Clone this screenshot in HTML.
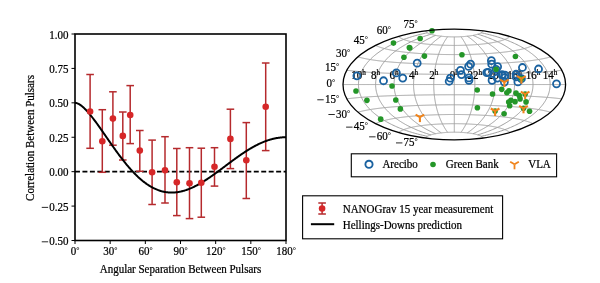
<!DOCTYPE html>
<html><head><meta charset="utf-8"><style>
html,body{margin:0;padding:0;background:#fff;overflow:hidden;width:600px;height:283px;}
svg{display:block;will-change:transform;}
</style></head><body>
<svg width="600" height="283" viewBox="0 0 600 283">
<rect width="600" height="283" fill="#fff"/>
<line x1="75.0" y1="171.67" x2="286.0" y2="171.67" stroke="#000" stroke-width="1.8" stroke-dasharray="4.95 2.5"/>
<line x1="90.1" y1="74.5" x2="90.1" y2="148.3" stroke="#b52a2d" stroke-width="1.5"/>
<line x1="86.3" y1="74.5" x2="93.89999999999999" y2="74.5" stroke="#b52a2d" stroke-width="1.5"/>
<line x1="86.3" y1="148.3" x2="93.89999999999999" y2="148.3" stroke="#b52a2d" stroke-width="1.5"/>
<line x1="102.3" y1="109.7" x2="102.3" y2="172.3" stroke="#b52a2d" stroke-width="1.5"/>
<line x1="98.5" y1="109.7" x2="106.1" y2="109.7" stroke="#b52a2d" stroke-width="1.5"/>
<line x1="98.5" y1="172.3" x2="106.1" y2="172.3" stroke="#b52a2d" stroke-width="1.5"/>
<line x1="112.9" y1="91.8" x2="112.9" y2="145.2" stroke="#b52a2d" stroke-width="1.5"/>
<line x1="109.10000000000001" y1="91.8" x2="116.7" y2="91.8" stroke="#b52a2d" stroke-width="1.5"/>
<line x1="109.10000000000001" y1="145.2" x2="116.7" y2="145.2" stroke="#b52a2d" stroke-width="1.5"/>
<line x1="122.8" y1="112.0" x2="122.8" y2="160.0" stroke="#b52a2d" stroke-width="1.5"/>
<line x1="119.0" y1="112.0" x2="126.6" y2="112.0" stroke="#b52a2d" stroke-width="1.5"/>
<line x1="119.0" y1="160.0" x2="126.6" y2="160.0" stroke="#b52a2d" stroke-width="1.5"/>
<line x1="130.2" y1="85.6" x2="130.2" y2="143.6" stroke="#b52a2d" stroke-width="1.5"/>
<line x1="126.39999999999999" y1="85.6" x2="134.0" y2="85.6" stroke="#b52a2d" stroke-width="1.5"/>
<line x1="126.39999999999999" y1="143.6" x2="134.0" y2="143.6" stroke="#b52a2d" stroke-width="1.5"/>
<line x1="139.8" y1="130.5" x2="139.8" y2="171.3" stroke="#b52a2d" stroke-width="1.5"/>
<line x1="136.0" y1="130.5" x2="143.60000000000002" y2="130.5" stroke="#b52a2d" stroke-width="1.5"/>
<line x1="136.0" y1="171.3" x2="143.60000000000002" y2="171.3" stroke="#b52a2d" stroke-width="1.5"/>
<line x1="152.1" y1="140.1" x2="152.1" y2="204.5" stroke="#b52a2d" stroke-width="1.5"/>
<line x1="148.29999999999998" y1="140.1" x2="155.9" y2="140.1" stroke="#b52a2d" stroke-width="1.5"/>
<line x1="148.29999999999998" y1="204.5" x2="155.9" y2="204.5" stroke="#b52a2d" stroke-width="1.5"/>
<line x1="165.0" y1="136.7" x2="165.0" y2="203.0" stroke="#b52a2d" stroke-width="1.5"/>
<line x1="161.2" y1="136.7" x2="168.8" y2="136.7" stroke="#b52a2d" stroke-width="1.5"/>
<line x1="161.2" y1="203.0" x2="168.8" y2="203.0" stroke="#b52a2d" stroke-width="1.5"/>
<line x1="176.8" y1="148.5" x2="176.8" y2="215.6" stroke="#b52a2d" stroke-width="1.5"/>
<line x1="173.0" y1="148.5" x2="180.60000000000002" y2="148.5" stroke="#b52a2d" stroke-width="1.5"/>
<line x1="173.0" y1="215.6" x2="180.60000000000002" y2="215.6" stroke="#b52a2d" stroke-width="1.5"/>
<line x1="189.5" y1="147.7" x2="189.5" y2="218.6" stroke="#b52a2d" stroke-width="1.5"/>
<line x1="185.7" y1="147.7" x2="193.3" y2="147.7" stroke="#b52a2d" stroke-width="1.5"/>
<line x1="185.7" y1="218.6" x2="193.3" y2="218.6" stroke="#b52a2d" stroke-width="1.5"/>
<line x1="201.3" y1="148.2" x2="201.3" y2="217.2" stroke="#b52a2d" stroke-width="1.5"/>
<line x1="197.5" y1="148.2" x2="205.10000000000002" y2="148.2" stroke="#b52a2d" stroke-width="1.5"/>
<line x1="197.5" y1="217.2" x2="205.10000000000002" y2="217.2" stroke="#b52a2d" stroke-width="1.5"/>
<line x1="214.5" y1="147.7" x2="214.5" y2="186.1" stroke="#b52a2d" stroke-width="1.5"/>
<line x1="210.7" y1="147.7" x2="218.3" y2="147.7" stroke="#b52a2d" stroke-width="1.5"/>
<line x1="210.7" y1="186.1" x2="218.3" y2="186.1" stroke="#b52a2d" stroke-width="1.5"/>
<line x1="230.4" y1="109.2" x2="230.4" y2="168.6" stroke="#b52a2d" stroke-width="1.5"/>
<line x1="226.6" y1="109.2" x2="234.20000000000002" y2="109.2" stroke="#b52a2d" stroke-width="1.5"/>
<line x1="226.6" y1="168.6" x2="234.20000000000002" y2="168.6" stroke="#b52a2d" stroke-width="1.5"/>
<line x1="246.3" y1="122.6" x2="246.3" y2="198.5" stroke="#b52a2d" stroke-width="1.5"/>
<line x1="242.5" y1="122.6" x2="250.10000000000002" y2="122.6" stroke="#b52a2d" stroke-width="1.5"/>
<line x1="242.5" y1="198.5" x2="250.10000000000002" y2="198.5" stroke="#b52a2d" stroke-width="1.5"/>
<line x1="265.7" y1="63.0" x2="265.7" y2="150.6" stroke="#b52a2d" stroke-width="1.5"/>
<line x1="261.9" y1="63.0" x2="269.5" y2="63.0" stroke="#b52a2d" stroke-width="1.5"/>
<line x1="261.9" y1="150.6" x2="269.5" y2="150.6" stroke="#b52a2d" stroke-width="1.5"/>
<polyline points="75.00,102.83 75.59,102.88 76.17,102.99 76.76,103.15 77.34,103.35 77.93,103.60 78.52,103.89 79.10,104.21 79.69,104.56 80.28,104.95 80.86,105.36 81.45,105.80 82.03,106.26 82.62,106.75 83.21,107.27 83.79,107.80 84.38,108.35 84.96,108.92 85.55,109.52 86.14,110.12 86.72,110.75 87.31,111.39 87.89,112.05 88.48,112.72 89.07,113.40 89.65,114.10 90.24,114.80 90.83,115.52 91.41,116.26 92.00,117.00 92.58,117.75 93.17,118.51 93.76,119.28 94.34,120.05 94.93,120.84 95.51,121.63 96.10,122.42 96.69,123.23 97.27,124.04 97.86,124.85 98.44,125.67 99.03,126.50 99.62,127.33 100.20,128.16 100.79,128.99 101.38,129.83 101.96,130.67 102.55,131.52 103.13,132.36 103.72,133.21 104.31,134.06 104.89,134.90 105.48,135.75 106.06,136.60 106.65,137.45 107.24,138.30 107.82,139.15 108.41,140.00 108.99,140.84 109.58,141.69 110.17,142.53 110.75,143.37 111.34,144.21 111.92,145.05 112.51,145.88 113.10,146.72 113.68,147.54 114.27,148.37 114.86,149.19 115.44,150.01 116.03,150.82 116.61,151.63 117.20,152.43 117.79,153.23 118.37,154.03 118.96,154.82 119.54,155.61 120.13,156.39 120.72,157.16 121.30,157.93 121.89,158.69 122.47,159.45 123.06,160.20 123.65,160.95 124.23,161.68 124.82,162.42 125.41,163.14 125.99,163.86 126.58,164.57 127.16,165.27 127.75,165.97 128.34,166.66 128.92,167.34 129.51,168.02 130.09,168.68 130.68,169.34 131.27,169.99 131.85,170.63 132.44,171.27 133.03,171.89 133.61,172.51 134.20,173.12 134.78,173.72 135.37,174.32 135.96,174.90 136.54,175.47 137.13,176.04 137.71,176.60 138.30,177.15 138.89,177.69 139.47,178.22 140.06,178.74 140.64,179.25 141.23,179.75 141.82,180.24 142.40,180.73 142.99,181.20 143.57,181.67 144.16,182.12 144.75,182.57 145.33,183.00 145.92,183.43 146.51,183.85 147.09,184.26 147.68,184.65 148.26,185.04 148.85,185.42 149.44,185.79 150.02,186.15 150.61,186.50 151.19,186.83 151.78,187.16 152.37,187.48 152.95,187.79 153.54,188.09 154.12,188.38 154.71,188.66 155.30,188.93 155.88,189.19 156.47,189.44 157.06,189.68 157.64,189.91 158.23,190.13 158.81,190.35 159.40,190.55 159.99,190.74 160.57,190.92 161.16,191.09 161.74,191.26 162.33,191.41 162.92,191.55 163.50,191.69 164.09,191.81 164.68,191.93 165.26,192.03 165.85,192.13 166.43,192.21 167.02,192.29 167.61,192.36 168.19,192.42 168.78,192.47 169.36,192.51 169.95,192.54 170.54,192.56 171.12,192.57 171.71,192.58 172.29,192.57 172.88,192.56 173.47,192.54 174.05,192.51 174.64,192.47 175.22,192.42 175.81,192.36 176.40,192.30 176.98,192.22 177.57,192.14 178.16,192.05 178.74,191.95 179.33,191.85 179.91,191.73 180.50,191.61 181.09,191.48 181.67,191.34 182.26,191.20 182.84,191.04 183.43,190.88 184.02,190.71 184.60,190.54 185.19,190.35 185.78,190.16 186.36,189.97 186.95,189.76 187.53,189.55 188.12,189.33 188.71,189.11 189.29,188.88 189.88,188.64 190.46,188.39 191.05,188.14 191.64,187.89 192.22,187.62 192.81,187.35 193.39,187.08 193.98,186.80 194.57,186.51 195.15,186.22 195.74,185.92 196.32,185.61 196.91,185.30 197.50,184.99 198.08,184.67 198.67,184.34 199.26,184.01 199.84,183.68 200.43,183.34 201.01,183.00 201.60,182.65 202.19,182.29 202.77,181.94 203.36,181.58 203.94,181.21 204.53,180.84 205.12,180.47 205.70,180.09 206.29,179.71 206.88,179.32 207.46,178.94 208.05,178.54 208.63,178.15 209.22,177.75 209.81,177.35 210.39,176.95 210.98,176.54 211.56,176.13 212.15,175.72 212.74,175.30 213.32,174.89 213.91,174.47 214.49,174.05 215.08,173.63 215.67,173.20 216.25,172.77 216.84,172.35 217.43,171.92 218.01,171.48 218.60,171.05 219.18,170.62 219.77,170.18 220.36,169.75 220.94,169.31 221.53,168.87 222.11,168.43 222.70,167.99 223.29,167.56 223.87,167.12 224.46,166.68 225.04,166.24 225.63,165.80 226.22,165.36 226.80,164.92 227.39,164.48 227.97,164.04 228.56,163.60 229.15,163.16 229.73,162.72 230.32,162.29 230.91,161.85 231.49,161.42 232.08,160.98 232.66,160.55 233.25,160.12 233.84,159.69 234.42,159.26 235.01,158.84 235.59,158.41 236.18,157.99 236.77,157.57 237.35,157.15 237.94,156.73 238.53,156.32 239.11,155.91 239.70,155.50 240.28,155.09 240.87,154.69 241.46,154.29 242.04,153.89 242.63,153.49 243.21,153.10 243.80,152.71 244.39,152.32 244.97,151.94 245.56,151.56 246.14,151.18 246.73,150.81 247.32,150.44 247.90,150.07 248.49,149.71 249.07,149.35 249.66,149.00 250.25,148.65 250.83,148.30 251.42,147.96 252.01,147.62 252.59,147.29 253.18,146.96 253.76,146.64 254.35,146.32 254.94,146.00 255.52,145.69 256.11,145.38 256.69,145.08 257.28,144.78 257.87,144.49 258.45,144.21 259.04,143.92 259.62,143.65 260.21,143.38 260.80,143.11 261.38,142.85 261.97,142.59 262.56,142.34 263.14,142.10 263.73,141.86 264.31,141.63 264.90,141.40 265.49,141.18 266.07,140.96 266.66,140.75 267.24,140.54 267.83,140.34 268.42,140.15 269.00,139.96 269.59,139.78 270.18,139.61 270.76,139.44 271.35,139.27 271.93,139.12 272.52,138.97 273.11,138.82 273.69,138.68 274.28,138.55 274.86,138.43 275.45,138.31 276.04,138.19 276.62,138.08 277.21,137.98 277.79,137.89 278.38,137.80 278.97,137.72 279.55,137.65 280.14,137.58 280.73,137.51 281.31,137.46 281.90,137.41 282.48,137.37 283.07,137.33 283.66,137.30 284.24,137.28 284.83,137.26 285.41,137.25 286.00,137.25" fill="none" stroke="#000" stroke-width="2"/>
<circle cx="90.1" cy="111.5" r="3.3" fill="#d62728"/>
<circle cx="102.3" cy="141.2" r="3.3" fill="#d62728"/>
<circle cx="112.9" cy="118.6" r="3.3" fill="#d62728"/>
<circle cx="122.8" cy="135.9" r="3.3" fill="#d62728"/>
<circle cx="130.2" cy="115.0" r="3.3" fill="#d62728"/>
<circle cx="139.8" cy="150.6" r="3.3" fill="#d62728"/>
<circle cx="152.1" cy="172.3" r="3.3" fill="#d62728"/>
<circle cx="165.0" cy="170.3" r="3.3" fill="#d62728"/>
<circle cx="176.8" cy="182.2" r="3.3" fill="#d62728"/>
<circle cx="189.5" cy="183.2" r="3.3" fill="#d62728"/>
<circle cx="201.3" cy="182.7" r="3.3" fill="#d62728"/>
<circle cx="214.5" cy="166.8" r="3.3" fill="#d62728"/>
<circle cx="230.4" cy="138.9" r="3.3" fill="#d62728"/>
<circle cx="246.3" cy="160.3" r="3.3" fill="#d62728"/>
<circle cx="265.7" cy="106.7" r="3.3" fill="#d62728"/>
<rect x="75.0" y="34.0" width="211.0" height="206.5" fill="none" stroke="#000" stroke-width="1.6"/>
<line x1="71.5" y1="240.50" x2="75.0" y2="240.50" stroke="#000" stroke-width="1"/>
<text transform="translate(68.60,245.00) scale(1,1.04)" font-family="Liberation Serif, serif" stroke="#000" stroke-width="0.22" font-size="11" text-anchor="end">0.50</text><line x1="41.75" y1="241.80" x2="48.15" y2="241.80" stroke="#111" stroke-width="0.9"/>
<line x1="71.5" y1="206.08" x2="75.0" y2="206.08" stroke="#000" stroke-width="1"/>
<text transform="translate(68.60,210.58) scale(1,1.04)" font-family="Liberation Serif, serif" stroke="#000" stroke-width="0.22" font-size="11" text-anchor="end">0.25</text><line x1="41.75" y1="207.38" x2="48.15" y2="207.38" stroke="#111" stroke-width="0.9"/>
<line x1="71.5" y1="171.67" x2="75.0" y2="171.67" stroke="#000" stroke-width="1"/>
<text transform="translate(68.60,176.17) scale(1,1.04)" font-family="Liberation Serif, serif" stroke="#000" stroke-width="0.22" font-size="11" text-anchor="end">0.00</text>
<line x1="71.5" y1="137.25" x2="75.0" y2="137.25" stroke="#000" stroke-width="1"/>
<text transform="translate(68.60,141.75) scale(1,1.04)" font-family="Liberation Serif, serif" stroke="#000" stroke-width="0.22" font-size="11" text-anchor="end">0.25</text>
<line x1="71.5" y1="102.83" x2="75.0" y2="102.83" stroke="#000" stroke-width="1"/>
<text transform="translate(68.60,107.33) scale(1,1.04)" font-family="Liberation Serif, serif" stroke="#000" stroke-width="0.22" font-size="11" text-anchor="end">0.50</text>
<line x1="71.5" y1="68.42" x2="75.0" y2="68.42" stroke="#000" stroke-width="1"/>
<text transform="translate(68.60,72.92) scale(1,1.04)" font-family="Liberation Serif, serif" stroke="#000" stroke-width="0.22" font-size="11" text-anchor="end">0.75</text>
<line x1="71.5" y1="34.00" x2="75.0" y2="34.00" stroke="#000" stroke-width="1"/>
<text transform="translate(68.60,38.50) scale(1,1.04)" font-family="Liberation Serif, serif" stroke="#000" stroke-width="0.22" font-size="11" text-anchor="end">1.00</text>
<line x1="75.00" y1="240.5" x2="75.00" y2="244.0" stroke="#000" stroke-width="1"/>
<text transform="translate(75.20,255.20) scale(1,1.04)" font-family="Liberation Serif, serif" stroke="#000" stroke-width="0.22" font-size="11" text-anchor="middle">0<tspan font-size="8.0" dy="-2.0" stroke-width="0.1">°</tspan></text>
<line x1="110.17" y1="240.5" x2="110.17" y2="244.0" stroke="#000" stroke-width="1"/>
<text transform="translate(110.37,255.20) scale(1,1.04)" font-family="Liberation Serif, serif" stroke="#000" stroke-width="0.22" font-size="11" text-anchor="middle">30<tspan font-size="8.0" dy="-2.0" stroke-width="0.1">°</tspan></text>
<line x1="145.33" y1="240.5" x2="145.33" y2="244.0" stroke="#000" stroke-width="1"/>
<text transform="translate(145.53,255.20) scale(1,1.04)" font-family="Liberation Serif, serif" stroke="#000" stroke-width="0.22" font-size="11" text-anchor="middle">60<tspan font-size="8.0" dy="-2.0" stroke-width="0.1">°</tspan></text>
<line x1="180.50" y1="240.5" x2="180.50" y2="244.0" stroke="#000" stroke-width="1"/>
<text transform="translate(180.70,255.20) scale(1,1.04)" font-family="Liberation Serif, serif" stroke="#000" stroke-width="0.22" font-size="11" text-anchor="middle">90<tspan font-size="8.0" dy="-2.0" stroke-width="0.1">°</tspan></text>
<line x1="215.67" y1="240.5" x2="215.67" y2="244.0" stroke="#000" stroke-width="1"/>
<text transform="translate(215.87,255.20) scale(1,1.04)" font-family="Liberation Serif, serif" stroke="#000" stroke-width="0.22" font-size="11" text-anchor="middle">120<tspan font-size="8.0" dy="-2.0" stroke-width="0.1">°</tspan></text>
<line x1="250.83" y1="240.5" x2="250.83" y2="244.0" stroke="#000" stroke-width="1"/>
<text transform="translate(251.03,255.20) scale(1,1.04)" font-family="Liberation Serif, serif" stroke="#000" stroke-width="0.22" font-size="11" text-anchor="middle">150<tspan font-size="8.0" dy="-2.0" stroke-width="0.1">°</tspan></text>
<line x1="286.00" y1="240.5" x2="286.00" y2="244.0" stroke="#000" stroke-width="1"/>
<text transform="translate(286.20,255.20) scale(1,1.04)" font-family="Liberation Serif, serif" stroke="#000" stroke-width="0.22" font-size="11" text-anchor="middle">180<tspan font-size="8.0" dy="-2.0" stroke-width="0.1">°</tspan></text>
<text transform="translate(180.50,272.50) scale(1,1.04)" font-family="Liberation Serif, serif" stroke="#000" stroke-width="0.22" font-size="11" text-anchor="middle">Angular Separation Between Pulsars</text>
<text transform="translate(33.80,138.00) rotate(-90) scale(1,1.04)" font-family="Liberation Serif, serif" stroke="#000" stroke-width="0.22" font-size="11" text-anchor="middle">Correlation Between Pulsars</text>
<polyline points="425.49,138.01 425.53,137.95 425.56,137.89 425.60,137.83 425.64,137.77 425.68,137.71 425.73,137.66 425.77,137.60 425.82,137.54 425.87,137.48 425.92,137.42 425.98,137.36 426.03,137.31 426.09,137.25 426.15,137.19 426.21,137.13 426.27,137.08 426.34,137.02 426.41,136.96 426.48,136.91 426.55,136.85 426.62,136.80 426.70,136.74 426.77,136.69 426.85,136.63 426.93,136.58 427.01,136.52 427.10,136.47 427.19,136.41 427.27,136.36 427.36,136.31 427.45,136.26 427.55,136.20 427.64,136.15 427.74,136.10 427.84,136.05 427.94,136.00 428.04,135.95 428.14,135.89 428.25,135.84 428.35,135.79 428.46,135.74 428.57,135.69 428.69,135.65 428.80,135.60 428.91,135.55 429.03,135.50 429.15,135.45 429.27,135.40 429.39,135.36 429.51,135.31 429.64,135.26 429.76,135.22 429.89,135.17 430.02,135.13 430.15,135.08 430.28,135.03 430.42,134.99 430.55,134.95 430.69,134.90 430.83,134.86 430.96,134.81 431.11,134.77 431.25,134.73 431.39,134.69 431.54,134.64 431.68,134.60 431.83,134.56 431.98,134.52 432.13,134.48 432.28,134.44 432.43,134.40 432.59,134.36 432.74,134.32 432.90,134.28 433.06,134.24 433.22,134.20 433.38,134.17 433.54,134.13 433.70,134.09 433.87,134.05 434.03,134.02 434.20,133.98 434.37,133.95 434.54,133.91 434.71,133.88 434.88,133.84 435.05,133.81 435.22,133.77 435.40,133.74 435.57,133.70 435.75,133.67 435.93,133.64 436.11,133.61 436.29,133.58 436.47,133.54 436.65,133.51 436.83,133.48 437.01,133.45 437.20,133.42 437.38,133.39 437.57,133.36 437.76,133.33 437.95,133.30 438.14,133.28 438.33,133.25 438.52,133.22 438.71,133.19 438.90,133.17 439.10,133.14 439.29,133.11 439.49,133.09 439.68,133.06 439.88,133.04 440.08,133.01 440.28,132.99 440.48,132.96 440.68,132.94 440.88,132.92 441.08,132.89 441.28,132.87 441.49,132.85 441.69,132.83 441.89,132.81 442.10,132.79 442.30,132.77 442.51,132.74 442.72,132.73 442.93,132.71 443.13,132.69 443.34,132.67 443.55,132.65 443.76,132.63 443.97,132.61 444.18,132.60 444.40,132.58 444.61,132.56 444.82,132.55 445.04,132.53 445.25,132.52 445.46,132.50 445.68,132.49 445.89,132.47 446.11,132.46 446.33,132.44 446.54,132.43 446.76,132.42 446.98,132.40 447.19,132.39 447.41,132.38 447.63,132.37 447.85,132.36 448.07,132.35 448.29,132.34 448.51,132.33 448.73,132.32 448.95,132.31 449.17,132.30 449.39,132.29 449.61,132.28 449.83,132.28 450.06,132.27 450.28,132.26 450.50,132.26 450.72,132.25 450.95,132.24 451.17,132.24 451.39,132.23 451.61,132.23 451.84,132.22 452.06,132.22 452.28,132.22 452.51,132.21 452.73,132.21 452.96,132.21 453.18,132.21 453.40,132.20 453.63,132.20 453.85,132.20 454.08,132.20 454.30,132.20 454.52,132.20 454.75,132.20 454.97,132.20 455.20,132.20 455.42,132.21 455.64,132.21 455.87,132.21 456.09,132.21 456.32,132.22 456.54,132.22 456.76,132.22 456.99,132.23 457.21,132.23 457.43,132.24 457.65,132.24 457.88,132.25 458.10,132.26 458.32,132.26 458.54,132.27 458.77,132.28 458.99,132.28 459.21,132.29 459.43,132.30 459.65,132.31 459.87,132.32 460.09,132.33 460.31,132.34 460.53,132.35 460.75,132.36 460.97,132.37 461.19,132.38 461.41,132.39 461.62,132.40 461.84,132.42 462.06,132.43 462.27,132.44 462.49,132.46 462.71,132.47 462.92,132.49 463.14,132.50 463.35,132.52 463.56,132.53 463.78,132.55 463.99,132.56 464.20,132.58 464.42,132.60 464.63,132.61 464.84,132.63 465.05,132.65 465.26,132.67 465.47,132.69 465.67,132.71 465.88,132.73 466.09,132.74 466.30,132.77 466.50,132.79 466.71,132.81 466.91,132.83 467.11,132.85 467.32,132.87 467.52,132.89 467.72,132.92 467.92,132.94 468.12,132.96 468.32,132.99 468.52,133.01 468.72,133.04 468.92,133.06 469.11,133.09 469.31,133.11 469.50,133.14 469.70,133.17 469.89,133.19 470.08,133.22 470.27,133.25 470.46,133.28 470.65,133.30 470.84,133.33 471.03,133.36 471.22,133.39 471.40,133.42 471.59,133.45 471.77,133.48 471.95,133.51 472.13,133.54 472.31,133.58 472.49,133.61 472.67,133.64 472.85,133.67 473.03,133.70 473.20,133.74 473.38,133.77 473.55,133.81 473.72,133.84 473.89,133.88 474.06,133.91 474.23,133.95 474.40,133.98 474.57,134.02 474.73,134.05 474.90,134.09 475.06,134.13 475.22,134.17 475.38,134.20 475.54,134.24 475.70,134.28 475.86,134.32 476.01,134.36 476.17,134.40 476.32,134.44 476.47,134.48 476.62,134.52 476.77,134.56 476.92,134.60 477.06,134.64 477.21,134.69 477.35,134.73 477.49,134.77 477.64,134.81 477.77,134.86 477.91,134.90 478.05,134.95 478.18,134.99 478.32,135.03 478.45,135.08 478.58,135.13 478.71,135.17 478.84,135.22 478.96,135.26 479.09,135.31 479.21,135.36 479.33,135.40 479.45,135.45 479.57,135.50 479.69,135.55 479.80,135.60 479.91,135.65 480.03,135.69 480.14,135.74 480.25,135.79 480.35,135.84 480.46,135.89 480.56,135.95 480.66,136.00 480.76,136.05 480.86,136.10 480.96,136.15 481.05,136.20 481.15,136.26 481.24,136.31 481.33,136.36 481.41,136.41 481.50,136.47 481.59,136.52 481.67,136.58 481.75,136.63 481.83,136.69 481.90,136.74 481.98,136.80 482.05,136.85 482.12,136.91 482.19,136.96 482.26,137.02 482.33,137.08 482.39,137.13 482.45,137.19 482.51,137.25 482.57,137.31 482.62,137.36 482.68,137.42 482.73,137.48 482.78,137.54 482.83,137.60 482.87,137.66 482.92,137.71 482.96,137.77 483.00,137.83 483.04,137.89 483.07,137.95 483.11,138.01" fill="none" stroke="#a0a0a0" stroke-width="1"/>
<polyline points="398.65,132.48 398.77,132.38 398.90,132.28 399.03,132.17 399.16,132.07 399.30,131.97 399.44,131.87 399.58,131.77 399.73,131.67 399.88,131.57 400.03,131.47 400.19,131.38 400.35,131.28 400.51,131.18 400.67,131.09 400.84,130.99 401.01,130.90 401.19,130.81 401.37,130.71 401.55,130.62 401.73,130.53 401.92,130.44 402.11,130.35 402.30,130.26 402.49,130.17 402.69,130.08 402.89,130.00 403.09,129.91 403.30,129.82 403.51,129.74 403.72,129.65 403.93,129.57 404.15,129.49 404.37,129.41 404.59,129.32 404.82,129.24 405.04,129.16 405.27,129.08 405.50,129.00 405.74,128.92 405.98,128.85 406.21,128.77 406.46,128.69 406.70,128.62 406.95,128.54 407.20,128.47 407.45,128.39 407.70,128.32 407.96,128.25 408.21,128.17 408.47,128.10 408.74,128.03 409.00,127.96 409.27,127.89 409.54,127.82 409.81,127.76 410.08,127.69 410.36,127.62 410.63,127.55 410.91,127.49 411.19,127.42 411.48,127.36 411.76,127.30 412.05,127.23 412.34,127.17 412.63,127.11 412.92,127.05 413.22,126.99 413.51,126.93 413.81,126.87 414.11,126.81 414.42,126.75 414.72,126.69 415.03,126.63 415.33,126.58 415.64,126.52 415.95,126.47 416.27,126.41 416.58,126.36 416.90,126.30 417.21,126.25 417.53,126.20 417.85,126.15 418.18,126.09 418.50,126.04 418.83,125.99 419.15,125.94 419.48,125.89 419.81,125.85 420.14,125.80 420.48,125.75 420.81,125.70 421.15,125.66 421.48,125.61 421.82,125.57 422.16,125.52 422.50,125.48 422.85,125.44 423.19,125.39 423.54,125.35 423.88,125.31 424.23,125.27 424.58,125.23 424.93,125.19 425.28,125.15 425.63,125.11 425.99,125.07 426.34,125.03 426.70,125.00 427.06,124.96 427.41,124.92 427.77,124.89 428.13,124.85 428.50,124.82 428.86,124.79 429.22,124.75 429.59,124.72 429.95,124.69 430.32,124.65 430.69,124.62 431.06,124.59 431.43,124.56 431.80,124.53 432.17,124.50 432.54,124.47 432.91,124.45 433.29,124.42 433.66,124.39 434.04,124.37 434.41,124.34 434.79,124.31 435.17,124.29 435.55,124.26 435.93,124.24 436.31,124.22 436.69,124.19 437.07,124.17 437.45,124.15 437.83,124.13 438.22,124.11 438.60,124.09 438.99,124.07 439.37,124.05 439.76,124.03 440.14,124.01 440.53,123.99 440.92,123.98 441.31,123.96 441.69,123.94 442.08,123.93 442.47,123.91 442.86,123.90 443.25,123.88 443.64,123.87 444.03,123.86 444.43,123.84 444.82,123.83 445.21,123.82 445.60,123.81 446.00,123.80 446.39,123.79 446.78,123.78 447.18,123.77 447.57,123.76 447.97,123.75 448.36,123.74 448.76,123.74 449.15,123.73 449.55,123.72 449.94,123.72 450.34,123.71 450.73,123.71 451.13,123.70 451.53,123.70 451.92,123.70 452.32,123.69 452.71,123.69 453.11,123.69 453.51,123.69 453.90,123.69 454.30,123.69 454.70,123.69 455.09,123.69 455.49,123.69 455.89,123.69 456.28,123.69 456.68,123.70 457.07,123.70 457.47,123.70 457.87,123.71 458.26,123.71 458.66,123.72 459.05,123.72 459.45,123.73 459.84,123.74 460.24,123.74 460.63,123.75 461.03,123.76 461.42,123.77 461.82,123.78 462.21,123.79 462.60,123.80 463.00,123.81 463.39,123.82 463.78,123.83 464.17,123.84 464.57,123.86 464.96,123.87 465.35,123.88 465.74,123.90 466.13,123.91 466.52,123.93 466.91,123.94 467.29,123.96 467.68,123.98 468.07,123.99 468.46,124.01 468.84,124.03 469.23,124.05 469.61,124.07 470.00,124.09 470.38,124.11 470.77,124.13 471.15,124.15 471.53,124.17 471.91,124.19 472.29,124.22 472.67,124.24 473.05,124.26 473.43,124.29 473.81,124.31 474.19,124.34 474.56,124.37 474.94,124.39 475.31,124.42 475.69,124.45 476.06,124.47 476.43,124.50 476.80,124.53 477.17,124.56 477.54,124.59 477.91,124.62 478.28,124.65 478.65,124.69 479.01,124.72 479.38,124.75 479.74,124.79 480.10,124.82 480.47,124.85 480.83,124.89 481.19,124.92 481.54,124.96 481.90,125.00 482.26,125.03 482.61,125.07 482.97,125.11 483.32,125.15 483.67,125.19 484.02,125.23 484.37,125.27 484.72,125.31 485.06,125.35 485.41,125.39 485.75,125.44 486.10,125.48 486.44,125.52 486.78,125.57 487.12,125.61 487.45,125.66 487.79,125.70 488.12,125.75 488.46,125.80 488.79,125.85 489.12,125.89 489.45,125.94 489.77,125.99 490.10,126.04 490.42,126.09 490.75,126.15 491.07,126.20 491.39,126.25 491.70,126.30 492.02,126.36 492.33,126.41 492.65,126.47 492.96,126.52 493.27,126.58 493.57,126.63 493.88,126.69 494.18,126.75 494.49,126.81 494.79,126.87 495.09,126.93 495.38,126.99 495.68,127.05 495.97,127.11 496.26,127.17 496.55,127.23 496.84,127.30 497.12,127.36 497.41,127.42 497.69,127.49 497.97,127.55 498.24,127.62 498.52,127.69 498.79,127.76 499.06,127.82 499.33,127.89 499.60,127.96 499.86,128.03 500.13,128.10 500.39,128.17 500.64,128.25 500.90,128.32 501.15,128.39 501.40,128.47 501.65,128.54 501.90,128.62 502.14,128.69 502.39,128.77 502.62,128.85 502.86,128.92 503.10,129.00 503.33,129.08 503.56,129.16 503.78,129.24 504.01,129.32 504.23,129.41 504.45,129.49 504.67,129.57 504.88,129.65 505.09,129.74 505.30,129.82 505.51,129.91 505.71,130.00 505.91,130.08 506.11,130.17 506.30,130.26 506.49,130.35 506.68,130.44 506.87,130.53 507.05,130.62 507.23,130.71 507.41,130.81 507.59,130.90 507.76,130.99 507.93,131.09 508.09,131.18 508.25,131.28 508.41,131.38 508.57,131.47 508.72,131.57 508.87,131.67 509.02,131.77 509.16,131.87 509.30,131.97 509.44,132.07 509.57,132.17 509.70,132.28 509.83,132.38 509.95,132.48" fill="none" stroke="#a0a0a0" stroke-width="1"/>
<polyline points="375.60,123.69 375.84,123.57 376.09,123.45 376.34,123.33 376.60,123.21 376.86,123.10 377.12,122.98 377.39,122.87 377.66,122.76 377.93,122.65 378.21,122.54 378.49,122.43 378.77,122.32 379.06,122.21 379.35,122.10 379.64,122.00 379.94,121.89 380.24,121.79 380.54,121.69 380.85,121.59 381.16,121.49 381.47,121.39 381.78,121.29 382.10,121.19 382.42,121.09 382.75,121.00 383.07,120.90 383.40,120.81 383.73,120.72 384.07,120.62 384.41,120.53 384.75,120.44 385.09,120.35 385.44,120.27 385.79,120.18 386.14,120.09 386.49,120.01 386.85,119.92 387.21,119.84 387.57,119.75 387.94,119.67 388.30,119.59 388.67,119.51 389.04,119.43 389.42,119.35 389.80,119.27 390.17,119.19 390.56,119.12 390.94,119.04 391.33,118.97 391.71,118.89 392.10,118.82 392.50,118.75 392.89,118.67 393.29,118.60 393.69,118.53 394.09,118.46 394.49,118.39 394.90,118.32 395.31,118.26 395.72,118.19 396.13,118.12 396.54,118.06 396.96,117.99 397.38,117.93 397.80,117.87 398.22,117.81 398.64,117.74 399.07,117.68 399.49,117.62 399.92,117.56 400.35,117.50 400.79,117.44 401.22,117.39 401.66,117.33 402.10,117.27 402.54,117.22 402.98,117.16 403.42,117.11 403.86,117.06 404.31,117.00 404.76,116.95 405.21,116.90 405.66,116.85 406.11,116.80 406.57,116.75 407.02,116.70 407.48,116.65 407.94,116.60 408.40,116.55 408.86,116.51 409.33,116.46 409.79,116.41 410.26,116.37 410.72,116.33 411.19,116.28 411.66,116.24 412.13,116.20 412.61,116.15 413.08,116.11 413.56,116.07 414.03,116.03 414.51,115.99 414.99,115.95 415.47,115.91 415.95,115.88 416.44,115.84 416.92,115.80 417.41,115.77 417.89,115.73 418.38,115.69 418.87,115.66 419.36,115.63 419.85,115.59 420.34,115.56 420.83,115.53 421.33,115.49 421.82,115.46 422.32,115.43 422.81,115.40 423.31,115.37 423.81,115.34 424.31,115.31 424.81,115.29 425.31,115.26 425.81,115.23 426.31,115.21 426.82,115.18 427.32,115.15 427.83,115.13 428.33,115.10 428.84,115.08 429.35,115.06 429.86,115.03 430.37,115.01 430.88,114.99 431.39,114.97 431.90,114.95 432.41,114.93 432.92,114.91 433.44,114.89 433.95,114.87 434.46,114.85 434.98,114.83 435.49,114.81 436.01,114.80 436.53,114.78 437.04,114.76 437.56,114.75 438.08,114.73 438.60,114.72 439.12,114.70 439.64,114.69 440.16,114.68 440.68,114.67 441.20,114.65 441.72,114.64 442.24,114.63 442.76,114.62 443.28,114.61 443.81,114.60 444.33,114.59 444.85,114.58 445.38,114.57 445.90,114.57 446.42,114.56 446.95,114.55 447.47,114.55 448.00,114.54 448.52,114.53 449.05,114.53 449.57,114.52 450.10,114.52 450.62,114.52 451.15,114.51 451.67,114.51 452.20,114.51 452.72,114.51 453.25,114.51 453.77,114.51 454.30,114.51 454.83,114.51 455.35,114.51 455.88,114.51 456.40,114.51 456.93,114.51 457.45,114.51 457.98,114.52 458.50,114.52 459.03,114.52 459.55,114.53 460.08,114.53 460.60,114.54 461.13,114.55 461.65,114.55 462.18,114.56 462.70,114.57 463.22,114.57 463.75,114.58 464.27,114.59 464.79,114.60 465.32,114.61 465.84,114.62 466.36,114.63 466.88,114.64 467.40,114.65 467.92,114.67 468.44,114.68 468.96,114.69 469.48,114.70 470.00,114.72 470.52,114.73 471.04,114.75 471.56,114.76 472.07,114.78 472.59,114.80 473.11,114.81 473.62,114.83 474.14,114.85 474.65,114.87 475.16,114.89 475.68,114.91 476.19,114.93 476.70,114.95 477.21,114.97 477.72,114.99 478.23,115.01 478.74,115.03 479.25,115.06 479.76,115.08 480.27,115.10 480.77,115.13 481.28,115.15 481.78,115.18 482.29,115.21 482.79,115.23 483.29,115.26 483.79,115.29 484.29,115.31 484.79,115.34 485.29,115.37 485.79,115.40 486.28,115.43 486.78,115.46 487.27,115.49 487.77,115.53 488.26,115.56 488.75,115.59 489.24,115.63 489.73,115.66 490.22,115.69 490.71,115.73 491.19,115.77 491.68,115.80 492.16,115.84 492.65,115.88 493.13,115.91 493.61,115.95 494.09,115.99 494.57,116.03 495.04,116.07 495.52,116.11 495.99,116.15 496.47,116.20 496.94,116.24 497.41,116.28 497.88,116.33 498.34,116.37 498.81,116.41 499.27,116.46 499.74,116.51 500.20,116.55 500.66,116.60 501.12,116.65 501.58,116.70 502.03,116.75 502.49,116.80 502.94,116.85 503.39,116.90 503.84,116.95 504.29,117.00 504.74,117.06 505.18,117.11 505.62,117.16 506.06,117.22 506.50,117.27 506.94,117.33 507.38,117.39 507.81,117.44 508.25,117.50 508.68,117.56 509.11,117.62 509.53,117.68 509.96,117.74 510.38,117.81 510.80,117.87 511.22,117.93 511.64,117.99 512.06,118.06 512.47,118.12 512.88,118.19 513.29,118.26 513.70,118.32 514.11,118.39 514.51,118.46 514.91,118.53 515.31,118.60 515.71,118.67 516.10,118.75 516.50,118.82 516.89,118.89 517.27,118.97 517.66,119.04 518.04,119.12 518.43,119.19 518.80,119.27 519.18,119.35 519.56,119.43 519.93,119.51 520.30,119.59 520.66,119.67 521.03,119.75 521.39,119.84 521.75,119.92 522.11,120.01 522.46,120.09 522.81,120.18 523.16,120.27 523.51,120.35 523.85,120.44 524.19,120.53 524.53,120.62 524.87,120.72 525.20,120.81 525.53,120.90 525.85,121.00 526.18,121.09 526.50,121.19 526.82,121.29 527.13,121.39 527.44,121.49 527.75,121.59 528.06,121.69 528.36,121.79 528.66,121.89 528.96,122.00 529.25,122.10 529.54,122.21 529.83,122.32 530.11,122.43 530.39,122.54 530.67,122.65 530.94,122.76 531.21,122.87 531.48,122.98 531.74,123.10 532.00,123.21 532.26,123.33 532.51,123.45 532.76,123.57 533.00,123.69" fill="none" stroke="#a0a0a0" stroke-width="1"/>
<polyline points="357.91,112.22 358.28,112.12 358.65,112.02 359.02,111.92 359.39,111.82 359.77,111.72 360.15,111.62 360.54,111.52 360.93,111.43 361.32,111.33 361.71,111.24 362.11,111.14 362.50,111.05 362.91,110.96 363.31,110.87 363.72,110.78 364.13,110.69 364.54,110.61 364.96,110.52 365.38,110.44 365.80,110.35 366.22,110.27 366.65,110.19 367.08,110.11 367.51,110.03 367.94,109.95 368.38,109.87 368.82,109.79 369.26,109.71 369.70,109.64 370.15,109.56 370.60,109.49 371.05,109.42 371.50,109.34 371.96,109.27 372.42,109.20 372.88,109.13 373.34,109.06 373.81,108.99 374.27,108.93 374.74,108.86 375.22,108.79 375.69,108.73 376.17,108.66 376.64,108.60 377.12,108.53 377.61,108.47 378.09,108.41 378.58,108.35 379.07,108.29 379.56,108.23 380.05,108.17 380.54,108.11 381.04,108.05 381.54,108.00 382.04,107.94 382.54,107.88 383.04,107.83 383.55,107.78 384.06,107.72 384.57,107.67 385.08,107.62 385.59,107.56 386.11,107.51 386.62,107.46 387.14,107.41 387.66,107.36 388.19,107.31 388.71,107.27 389.23,107.22 389.76,107.17 390.29,107.12 390.82,107.08 391.35,107.03 391.89,106.99 392.42,106.94 392.96,106.90 393.50,106.86 394.04,106.81 394.58,106.77 395.12,106.73 395.66,106.69 396.21,106.65 396.76,106.61 397.30,106.57 397.85,106.53 398.41,106.49 398.96,106.46 399.51,106.42 400.07,106.38 400.62,106.34 401.18,106.31 401.74,106.27 402.30,106.24 402.86,106.20 403.43,106.17 403.99,106.14 404.56,106.10 405.12,106.07 405.69,106.04 406.26,106.01 406.83,105.98 407.40,105.95 407.98,105.92 408.55,105.89 409.12,105.86 409.70,105.83 410.28,105.80 410.86,105.77 411.43,105.74 412.01,105.72 412.60,105.69 413.18,105.66 413.76,105.64 414.34,105.61 414.93,105.59 415.52,105.56 416.10,105.54 416.69,105.52 417.28,105.49 417.87,105.47 418.46,105.45 419.05,105.43 419.64,105.40 420.24,105.38 420.83,105.36 421.42,105.34 422.02,105.32 422.61,105.30 423.21,105.28 423.81,105.26 424.41,105.25 425.01,105.23 425.61,105.21 426.21,105.19 426.81,105.18 427.41,105.16 428.01,105.14 428.61,105.13 429.22,105.11 429.82,105.10 430.43,105.08 431.03,105.07 431.64,105.06 432.24,105.04 432.85,105.03 433.46,105.02 434.07,105.01 434.67,104.99 435.28,104.98 435.89,104.97 436.50,104.96 437.11,104.95 437.72,104.94 438.33,104.93 438.94,104.92 439.55,104.91 440.17,104.90 440.78,104.90 441.39,104.89 442.00,104.88 442.62,104.87 443.23,104.87 443.84,104.86 444.46,104.86 445.07,104.85 445.69,104.84 446.30,104.84 446.91,104.84 447.53,104.83 448.14,104.83 448.76,104.82 449.38,104.82 449.99,104.82 450.61,104.82 451.22,104.81 451.84,104.81 452.45,104.81 453.07,104.81 453.68,104.81 454.30,104.81 454.92,104.81 455.53,104.81 456.15,104.81 456.76,104.81 457.38,104.81 457.99,104.82 458.61,104.82 459.22,104.82 459.84,104.82 460.46,104.83 461.07,104.83 461.69,104.84 462.30,104.84 462.91,104.84 463.53,104.85 464.14,104.86 464.76,104.86 465.37,104.87 465.98,104.87 466.60,104.88 467.21,104.89 467.82,104.90 468.43,104.90 469.05,104.91 469.66,104.92 470.27,104.93 470.88,104.94 471.49,104.95 472.10,104.96 472.71,104.97 473.32,104.98 473.93,104.99 474.53,105.01 475.14,105.02 475.75,105.03 476.36,105.04 476.96,105.06 477.57,105.07 478.17,105.08 478.78,105.10 479.38,105.11 479.99,105.13 480.59,105.14 481.19,105.16 481.79,105.18 482.39,105.19 482.99,105.21 483.59,105.23 484.19,105.25 484.79,105.26 485.39,105.28 485.99,105.30 486.58,105.32 487.18,105.34 487.77,105.36 488.36,105.38 488.96,105.40 489.55,105.43 490.14,105.45 490.73,105.47 491.32,105.49 491.91,105.52 492.50,105.54 493.08,105.56 493.67,105.59 494.26,105.61 494.84,105.64 495.42,105.66 496.00,105.69 496.59,105.72 497.17,105.74 497.74,105.77 498.32,105.80 498.90,105.83 499.48,105.86 500.05,105.89 500.62,105.92 501.20,105.95 501.77,105.98 502.34,106.01 502.91,106.04 503.48,106.07 504.04,106.10 504.61,106.14 505.17,106.17 505.74,106.20 506.30,106.24 506.86,106.27 507.42,106.31 507.98,106.34 508.53,106.38 509.09,106.42 509.64,106.46 510.19,106.49 510.75,106.53 511.30,106.57 511.84,106.61 512.39,106.65 512.94,106.69 513.48,106.73 514.02,106.77 514.56,106.81 515.10,106.86 515.64,106.90 516.18,106.94 516.71,106.99 517.25,107.03 517.78,107.08 518.31,107.12 518.84,107.17 519.37,107.22 519.89,107.27 520.41,107.31 520.94,107.36 521.46,107.41 521.98,107.46 522.49,107.51 523.01,107.56 523.52,107.62 524.03,107.67 524.54,107.72 525.05,107.78 525.56,107.83 526.06,107.88 526.56,107.94 527.06,108.00 527.56,108.05 528.06,108.11 528.55,108.17 529.04,108.23 529.53,108.29 530.02,108.35 530.51,108.41 530.99,108.47 531.48,108.53 531.96,108.60 532.43,108.66 532.91,108.73 533.38,108.79 533.86,108.86 534.33,108.93 534.79,108.99 535.26,109.06 535.72,109.13 536.18,109.20 536.64,109.27 537.10,109.34 537.55,109.42 538.00,109.49 538.45,109.56 538.90,109.64 539.34,109.71 539.78,109.79 540.22,109.87 540.66,109.95 541.09,110.03 541.52,110.11 541.95,110.19 542.38,110.27 542.80,110.35 543.22,110.44 543.64,110.52 544.06,110.61 544.47,110.69 544.88,110.78 545.29,110.87 545.69,110.96 546.10,111.05 546.49,111.14 546.89,111.24 547.28,111.33 547.67,111.43 548.06,111.52 548.45,111.62 548.83,111.72 549.21,111.82 549.58,111.92 549.95,112.02 550.32,112.12 550.69,112.22" fill="none" stroke="#a0a0a0" stroke-width="1"/>
<polyline points="346.79,98.88 347.25,98.82 347.70,98.76 348.16,98.70 348.62,98.64 349.09,98.58 349.55,98.53 350.02,98.47 350.49,98.42 350.97,98.36 351.44,98.31 351.92,98.26 352.40,98.20 352.88,98.15 353.37,98.10 353.86,98.05 354.35,98.00 354.84,97.95 355.33,97.90 355.83,97.85 356.32,97.81 356.82,97.76 357.33,97.71 357.83,97.67 358.34,97.62 358.85,97.58 359.36,97.53 359.87,97.49 360.38,97.45 360.90,97.41 361.42,97.36 361.94,97.32 362.46,97.28 362.99,97.24 363.51,97.20 364.04,97.16 364.57,97.12 365.10,97.08 365.64,97.05 366.18,97.01 366.71,96.97 367.25,96.93 367.79,96.90 368.34,96.86 368.88,96.83 369.43,96.79 369.98,96.76 370.53,96.72 371.08,96.69 371.64,96.65 372.19,96.62 372.75,96.59 373.31,96.56 373.87,96.53 374.43,96.49 375.00,96.46 375.56,96.43 376.13,96.40 376.70,96.37 377.27,96.34 377.85,96.31 378.42,96.29 379.00,96.26 379.57,96.23 380.15,96.20 380.73,96.17 381.31,96.15 381.90,96.12 382.48,96.09 383.07,96.07 383.66,96.04 384.25,96.02 384.84,95.99 385.43,95.97 386.02,95.94 386.62,95.92 387.21,95.89 387.81,95.87 388.41,95.85 389.01,95.82 389.61,95.80 390.22,95.78 390.82,95.76 391.43,95.74 392.03,95.71 392.64,95.69 393.25,95.67 393.86,95.65 394.47,95.63 395.09,95.61 395.70,95.59 396.32,95.57 396.93,95.55 397.55,95.54 398.17,95.52 398.79,95.50 399.41,95.48 400.04,95.46 400.66,95.44 401.29,95.43 401.91,95.41 402.54,95.39 403.17,95.38 403.80,95.36 404.43,95.34 405.06,95.33 405.69,95.31 406.32,95.30 406.96,95.28 407.59,95.27 408.23,95.25 408.86,95.24 409.50,95.23 410.14,95.21 410.78,95.20 411.42,95.18 412.06,95.17 412.70,95.16 413.35,95.15 413.99,95.13 414.63,95.12 415.28,95.11 415.93,95.10 416.57,95.09 417.22,95.07 417.87,95.06 418.52,95.05 419.17,95.04 419.82,95.03 420.47,95.02 421.12,95.01 421.78,95.00 422.43,94.99 423.08,94.98 423.74,94.97 424.39,94.96 425.05,94.95 425.71,94.95 426.36,94.94 427.02,94.93 427.68,94.92 428.34,94.91 429.00,94.91 429.66,94.90 430.32,94.89 430.98,94.89 431.64,94.88 432.30,94.87 432.96,94.87 433.62,94.86 434.29,94.85 434.95,94.85 435.61,94.84 436.28,94.84 436.94,94.83 437.61,94.83 438.27,94.82 438.94,94.82 439.60,94.81 440.27,94.81 440.94,94.81 441.60,94.80 442.27,94.80 442.94,94.79 443.60,94.79 444.27,94.79 444.94,94.79 445.61,94.78 446.27,94.78 446.94,94.78 447.61,94.78 448.28,94.77 448.95,94.77 449.62,94.77 450.29,94.77 450.95,94.77 451.62,94.77 452.29,94.77 452.96,94.77 453.63,94.77 454.30,94.77 454.97,94.77 455.64,94.77 456.31,94.77 456.98,94.77 457.65,94.77 458.31,94.77 458.98,94.77 459.65,94.77 460.32,94.77 460.99,94.78 461.66,94.78 462.33,94.78 462.99,94.78 463.66,94.79 464.33,94.79 465.00,94.79 465.66,94.79 466.33,94.80 467.00,94.80 467.66,94.81 468.33,94.81 469.00,94.81 469.66,94.82 470.33,94.82 470.99,94.83 471.66,94.83 472.32,94.84 472.99,94.84 473.65,94.85 474.31,94.85 474.98,94.86 475.64,94.87 476.30,94.87 476.96,94.88 477.62,94.89 478.28,94.89 478.94,94.90 479.60,94.91 480.26,94.91 480.92,94.92 481.58,94.93 482.24,94.94 482.89,94.95 483.55,94.95 484.21,94.96 484.86,94.97 485.52,94.98 486.17,94.99 486.82,95.00 487.48,95.01 488.13,95.02 488.78,95.03 489.43,95.04 490.08,95.05 490.73,95.06 491.38,95.07 492.03,95.09 492.67,95.10 493.32,95.11 493.97,95.12 494.61,95.13 495.25,95.15 495.90,95.16 496.54,95.17 497.18,95.18 497.82,95.20 498.46,95.21 499.10,95.23 499.74,95.24 500.37,95.25 501.01,95.27 501.64,95.28 502.28,95.30 502.91,95.31 503.54,95.33 504.17,95.34 504.80,95.36 505.43,95.38 506.06,95.39 506.69,95.41 507.31,95.43 507.94,95.44 508.56,95.46 509.19,95.48 509.81,95.50 510.43,95.52 511.05,95.54 511.67,95.55 512.28,95.57 512.90,95.59 513.51,95.61 514.13,95.63 514.74,95.65 515.35,95.67 515.96,95.69 516.57,95.71 517.17,95.74 517.78,95.76 518.38,95.78 518.99,95.80 519.59,95.82 520.19,95.85 520.79,95.87 521.39,95.89 521.98,95.92 522.58,95.94 523.17,95.97 523.76,95.99 524.35,96.02 524.94,96.04 525.53,96.07 526.12,96.09 526.70,96.12 527.29,96.15 527.87,96.17 528.45,96.20 529.03,96.23 529.60,96.26 530.18,96.29 530.75,96.31 531.33,96.34 531.90,96.37 532.47,96.40 533.04,96.43 533.60,96.46 534.17,96.49 534.73,96.53 535.29,96.56 535.85,96.59 536.41,96.62 536.96,96.65 537.52,96.69 538.07,96.72 538.62,96.76 539.17,96.79 539.72,96.83 540.26,96.86 540.81,96.90 541.35,96.93 541.89,96.97 542.42,97.01 542.96,97.05 543.50,97.08 544.03,97.12 544.56,97.16 545.09,97.20 545.61,97.24 546.14,97.28 546.66,97.32 547.18,97.36 547.70,97.41 548.22,97.45 548.73,97.49 549.24,97.53 549.75,97.58 550.26,97.62 550.77,97.67 551.27,97.71 551.78,97.76 552.28,97.81 552.77,97.85 553.27,97.90 553.76,97.95 554.25,98.00 554.74,98.05 555.23,98.10 555.72,98.15 556.20,98.20 556.68,98.26 557.16,98.31 557.63,98.36 558.11,98.42 558.58,98.47 559.05,98.53 559.51,98.58 559.98,98.64 560.44,98.70 560.90,98.76 561.35,98.82 561.81,98.88" fill="none" stroke="#a0a0a0" stroke-width="1"/>
<polyline points="343.00,84.55 343.49,84.55 343.98,84.55 344.47,84.55 344.96,84.55 345.45,84.55 345.95,84.55 346.45,84.55 346.95,84.55 347.46,84.55 347.96,84.55 348.47,84.55 348.98,84.55 349.49,84.55 350.00,84.55 350.52,84.55 351.04,84.55 351.55,84.55 352.08,84.55 352.60,84.55 353.12,84.55 353.65,84.55 354.18,84.55 354.71,84.55 355.24,84.55 355.78,84.55 356.31,84.55 356.85,84.55 357.39,84.55 357.94,84.55 358.48,84.55 359.03,84.55 359.57,84.55 360.12,84.55 360.67,84.55 361.23,84.55 361.78,84.55 362.34,84.55 362.90,84.55 363.46,84.55 364.02,84.55 364.58,84.55 365.15,84.55 365.71,84.55 366.28,84.55 366.85,84.55 367.42,84.55 368.00,84.55 368.57,84.55 369.15,84.55 369.73,84.55 370.31,84.55 370.89,84.55 371.47,84.55 372.06,84.55 372.64,84.55 373.23,84.55 373.82,84.55 374.41,84.55 375.00,84.55 375.60,84.55 376.19,84.55 376.79,84.55 377.39,84.55 377.99,84.55 378.59,84.55 379.19,84.55 379.80,84.55 380.40,84.55 381.01,84.55 381.62,84.55 382.23,84.55 382.84,84.55 383.45,84.55 384.07,84.55 384.68,84.55 385.30,84.55 385.92,84.55 386.54,84.55 387.16,84.55 387.78,84.55 388.40,84.55 389.03,84.55 389.65,84.55 390.28,84.55 390.91,84.55 391.54,84.55 392.17,84.55 392.80,84.55 393.43,84.55 394.06,84.55 394.70,84.55 395.34,84.55 395.97,84.55 396.61,84.55 397.25,84.55 397.89,84.55 398.53,84.55 399.18,84.55 399.82,84.55 400.47,84.55 401.11,84.55 401.76,84.55 402.41,84.55 403.05,84.55 403.70,84.55 404.36,84.55 405.01,84.55 405.66,84.55 406.31,84.55 406.97,84.55 407.62,84.55 408.28,84.55 408.94,84.55 409.60,84.55 410.25,84.55 410.91,84.55 411.57,84.55 412.24,84.55 412.90,84.55 413.56,84.55 414.23,84.55 414.89,84.55 415.55,84.55 416.22,84.55 416.89,84.55 417.56,84.55 418.22,84.55 418.89,84.55 419.56,84.55 420.23,84.55 420.90,84.55 421.57,84.55 422.25,84.55 422.92,84.55 423.59,84.55 424.27,84.55 424.94,84.55 425.62,84.55 426.29,84.55 426.97,84.55 427.64,84.55 428.32,84.55 429.00,84.55 429.68,84.55 430.36,84.55 431.03,84.55 431.71,84.55 432.39,84.55 433.07,84.55 433.75,84.55 434.44,84.55 435.12,84.55 435.80,84.55 436.48,84.55 437.16,84.55 437.85,84.55 438.53,84.55 439.21,84.55 439.90,84.55 440.58,84.55 441.27,84.55 441.95,84.55 442.64,84.55 443.32,84.55 444.01,84.55 444.69,84.55 445.38,84.55 446.06,84.55 446.75,84.55 447.43,84.55 448.12,84.55 448.81,84.55 449.49,84.55 450.18,84.55 450.87,84.55 451.55,84.55 452.24,84.55 452.93,84.55 453.61,84.55 454.30,84.55 454.99,84.55 455.67,84.55 456.36,84.55 457.05,84.55 457.73,84.55 458.42,84.55 459.11,84.55 459.79,84.55 460.48,84.55 461.17,84.55 461.85,84.55 462.54,84.55 463.22,84.55 463.91,84.55 464.59,84.55 465.28,84.55 465.96,84.55 466.65,84.55 467.33,84.55 468.02,84.55 468.70,84.55 469.39,84.55 470.07,84.55 470.75,84.55 471.44,84.55 472.12,84.55 472.80,84.55 473.48,84.55 474.16,84.55 474.85,84.55 475.53,84.55 476.21,84.55 476.89,84.55 477.57,84.55 478.24,84.55 478.92,84.55 479.60,84.55 480.28,84.55 480.96,84.55 481.63,84.55 482.31,84.55 482.98,84.55 483.66,84.55 484.33,84.55 485.01,84.55 485.68,84.55 486.35,84.55 487.03,84.55 487.70,84.55 488.37,84.55 489.04,84.55 489.71,84.55 490.38,84.55 491.04,84.55 491.71,84.55 492.38,84.55 493.05,84.55 493.71,84.55 494.37,84.55 495.04,84.55 495.70,84.55 496.36,84.55 497.03,84.55 497.69,84.55 498.35,84.55 499.00,84.55 499.66,84.55 500.32,84.55 500.98,84.55 501.63,84.55 502.29,84.55 502.94,84.55 503.59,84.55 504.24,84.55 504.90,84.55 505.55,84.55 506.19,84.55 506.84,84.55 507.49,84.55 508.13,84.55 508.78,84.55 509.42,84.55 510.07,84.55 510.71,84.55 511.35,84.55 511.99,84.55 512.63,84.55 513.26,84.55 513.90,84.55 514.54,84.55 515.17,84.55 515.80,84.55 516.43,84.55 517.06,84.55 517.69,84.55 518.32,84.55 518.95,84.55 519.57,84.55 520.20,84.55 520.82,84.55 521.44,84.55 522.06,84.55 522.68,84.55 523.30,84.55 523.92,84.55 524.53,84.55 525.15,84.55 525.76,84.55 526.37,84.55 526.98,84.55 527.59,84.55 528.20,84.55 528.80,84.55 529.41,84.55 530.01,84.55 530.61,84.55 531.21,84.55 531.81,84.55 532.41,84.55 533.00,84.55 533.60,84.55 534.19,84.55 534.78,84.55 535.37,84.55 535.96,84.55 536.54,84.55 537.13,84.55 537.71,84.55 538.29,84.55 538.87,84.55 539.45,84.55 540.03,84.55 540.60,84.55 541.18,84.55 541.75,84.55 542.32,84.55 542.89,84.55 543.45,84.55 544.02,84.55 544.58,84.55 545.14,84.55 545.70,84.55 546.26,84.55 546.82,84.55 547.37,84.55 547.93,84.55 548.48,84.55 549.03,84.55 549.57,84.55 550.12,84.55 550.66,84.55 551.21,84.55 551.75,84.55 552.29,84.55 552.82,84.55 553.36,84.55 553.89,84.55 554.42,84.55 554.95,84.55 555.48,84.55 556.00,84.55 556.52,84.55 557.05,84.55 557.56,84.55 558.08,84.55 558.60,84.55 559.11,84.55 559.62,84.55 560.13,84.55 560.64,84.55 561.14,84.55 561.65,84.55 562.15,84.55 562.65,84.55 563.15,84.55 563.64,84.55 564.13,84.55 564.62,84.55 565.11,84.55 565.60,84.55" fill="none" stroke="#a0a0a0" stroke-width="1"/>
<polyline points="346.79,70.22 347.25,70.28 347.70,70.34 348.16,70.40 348.62,70.46 349.09,70.52 349.55,70.57 350.02,70.63 350.49,70.68 350.97,70.74 351.44,70.79 351.92,70.84 352.40,70.90 352.88,70.95 353.37,71.00 353.86,71.05 354.35,71.10 354.84,71.15 355.33,71.20 355.83,71.25 356.32,71.29 356.82,71.34 357.33,71.39 357.83,71.43 358.34,71.48 358.85,71.52 359.36,71.57 359.87,71.61 360.38,71.65 360.90,71.69 361.42,71.74 361.94,71.78 362.46,71.82 362.99,71.86 363.51,71.90 364.04,71.94 364.57,71.98 365.10,72.02 365.64,72.05 366.18,72.09 366.71,72.13 367.25,72.17 367.79,72.20 368.34,72.24 368.88,72.27 369.43,72.31 369.98,72.34 370.53,72.38 371.08,72.41 371.64,72.45 372.19,72.48 372.75,72.51 373.31,72.54 373.87,72.57 374.43,72.61 375.00,72.64 375.56,72.67 376.13,72.70 376.70,72.73 377.27,72.76 377.85,72.79 378.42,72.81 379.00,72.84 379.57,72.87 380.15,72.90 380.73,72.93 381.31,72.95 381.90,72.98 382.48,73.01 383.07,73.03 383.66,73.06 384.25,73.08 384.84,73.11 385.43,73.13 386.02,73.16 386.62,73.18 387.21,73.21 387.81,73.23 388.41,73.25 389.01,73.28 389.61,73.30 390.22,73.32 390.82,73.34 391.43,73.36 392.03,73.39 392.64,73.41 393.25,73.43 393.86,73.45 394.47,73.47 395.09,73.49 395.70,73.51 396.32,73.53 396.93,73.55 397.55,73.56 398.17,73.58 398.79,73.60 399.41,73.62 400.04,73.64 400.66,73.66 401.29,73.67 401.91,73.69 402.54,73.71 403.17,73.72 403.80,73.74 404.43,73.76 405.06,73.77 405.69,73.79 406.32,73.80 406.96,73.82 407.59,73.83 408.23,73.85 408.86,73.86 409.50,73.87 410.14,73.89 410.78,73.90 411.42,73.92 412.06,73.93 412.70,73.94 413.35,73.95 413.99,73.97 414.63,73.98 415.28,73.99 415.93,74.00 416.57,74.01 417.22,74.03 417.87,74.04 418.52,74.05 419.17,74.06 419.82,74.07 420.47,74.08 421.12,74.09 421.78,74.10 422.43,74.11 423.08,74.12 423.74,74.13 424.39,74.14 425.05,74.15 425.71,74.15 426.36,74.16 427.02,74.17 427.68,74.18 428.34,74.19 429.00,74.19 429.66,74.20 430.32,74.21 430.98,74.21 431.64,74.22 432.30,74.23 432.96,74.23 433.62,74.24 434.29,74.25 434.95,74.25 435.61,74.26 436.28,74.26 436.94,74.27 437.61,74.27 438.27,74.28 438.94,74.28 439.60,74.29 440.27,74.29 440.94,74.29 441.60,74.30 442.27,74.30 442.94,74.31 443.60,74.31 444.27,74.31 444.94,74.31 445.61,74.32 446.27,74.32 446.94,74.32 447.61,74.32 448.28,74.33 448.95,74.33 449.62,74.33 450.29,74.33 450.95,74.33 451.62,74.33 452.29,74.33 452.96,74.33 453.63,74.33 454.30,74.33 454.97,74.33 455.64,74.33 456.31,74.33 456.98,74.33 457.65,74.33 458.31,74.33 458.98,74.33 459.65,74.33 460.32,74.33 460.99,74.32 461.66,74.32 462.33,74.32 462.99,74.32 463.66,74.31 464.33,74.31 465.00,74.31 465.66,74.31 466.33,74.30 467.00,74.30 467.66,74.29 468.33,74.29 469.00,74.29 469.66,74.28 470.33,74.28 470.99,74.27 471.66,74.27 472.32,74.26 472.99,74.26 473.65,74.25 474.31,74.25 474.98,74.24 475.64,74.23 476.30,74.23 476.96,74.22 477.62,74.21 478.28,74.21 478.94,74.20 479.60,74.19 480.26,74.19 480.92,74.18 481.58,74.17 482.24,74.16 482.89,74.15 483.55,74.15 484.21,74.14 484.86,74.13 485.52,74.12 486.17,74.11 486.82,74.10 487.48,74.09 488.13,74.08 488.78,74.07 489.43,74.06 490.08,74.05 490.73,74.04 491.38,74.03 492.03,74.01 492.67,74.00 493.32,73.99 493.97,73.98 494.61,73.97 495.25,73.95 495.90,73.94 496.54,73.93 497.18,73.92 497.82,73.90 498.46,73.89 499.10,73.87 499.74,73.86 500.37,73.85 501.01,73.83 501.64,73.82 502.28,73.80 502.91,73.79 503.54,73.77 504.17,73.76 504.80,73.74 505.43,73.72 506.06,73.71 506.69,73.69 507.31,73.67 507.94,73.66 508.56,73.64 509.19,73.62 509.81,73.60 510.43,73.58 511.05,73.56 511.67,73.55 512.28,73.53 512.90,73.51 513.51,73.49 514.13,73.47 514.74,73.45 515.35,73.43 515.96,73.41 516.57,73.39 517.17,73.36 517.78,73.34 518.38,73.32 518.99,73.30 519.59,73.28 520.19,73.25 520.79,73.23 521.39,73.21 521.98,73.18 522.58,73.16 523.17,73.13 523.76,73.11 524.35,73.08 524.94,73.06 525.53,73.03 526.12,73.01 526.70,72.98 527.29,72.95 527.87,72.93 528.45,72.90 529.03,72.87 529.60,72.84 530.18,72.81 530.75,72.79 531.33,72.76 531.90,72.73 532.47,72.70 533.04,72.67 533.60,72.64 534.17,72.61 534.73,72.57 535.29,72.54 535.85,72.51 536.41,72.48 536.96,72.45 537.52,72.41 538.07,72.38 538.62,72.34 539.17,72.31 539.72,72.27 540.26,72.24 540.81,72.20 541.35,72.17 541.89,72.13 542.42,72.09 542.96,72.05 543.50,72.02 544.03,71.98 544.56,71.94 545.09,71.90 545.61,71.86 546.14,71.82 546.66,71.78 547.18,71.74 547.70,71.69 548.22,71.65 548.73,71.61 549.24,71.57 549.75,71.52 550.26,71.48 550.77,71.43 551.27,71.39 551.78,71.34 552.28,71.29 552.77,71.25 553.27,71.20 553.76,71.15 554.25,71.10 554.74,71.05 555.23,71.00 555.72,70.95 556.20,70.90 556.68,70.84 557.16,70.79 557.63,70.74 558.11,70.68 558.58,70.63 559.05,70.57 559.51,70.52 559.98,70.46 560.44,70.40 560.90,70.34 561.35,70.28 561.81,70.22" fill="none" stroke="#a0a0a0" stroke-width="1"/>
<polyline points="357.91,56.88 358.28,56.98 358.65,57.08 359.02,57.18 359.39,57.28 359.77,57.38 360.15,57.48 360.54,57.58 360.93,57.67 361.32,57.77 361.71,57.86 362.11,57.96 362.50,58.05 362.91,58.14 363.31,58.23 363.72,58.32 364.13,58.41 364.54,58.49 364.96,58.58 365.38,58.66 365.80,58.75 366.22,58.83 366.65,58.91 367.08,58.99 367.51,59.07 367.94,59.15 368.38,59.23 368.82,59.31 369.26,59.39 369.70,59.46 370.15,59.54 370.60,59.61 371.05,59.68 371.50,59.76 371.96,59.83 372.42,59.90 372.88,59.97 373.34,60.04 373.81,60.11 374.27,60.17 374.74,60.24 375.22,60.31 375.69,60.37 376.17,60.44 376.64,60.50 377.12,60.57 377.61,60.63 378.09,60.69 378.58,60.75 379.07,60.81 379.56,60.87 380.05,60.93 380.54,60.99 381.04,61.05 381.54,61.10 382.04,61.16 382.54,61.22 383.04,61.27 383.55,61.32 384.06,61.38 384.57,61.43 385.08,61.48 385.59,61.54 386.11,61.59 386.62,61.64 387.14,61.69 387.66,61.74 388.19,61.79 388.71,61.83 389.23,61.88 389.76,61.93 390.29,61.98 390.82,62.02 391.35,62.07 391.89,62.11 392.42,62.16 392.96,62.20 393.50,62.24 394.04,62.29 394.58,62.33 395.12,62.37 395.66,62.41 396.21,62.45 396.76,62.49 397.30,62.53 397.85,62.57 398.41,62.61 398.96,62.64 399.51,62.68 400.07,62.72 400.62,62.76 401.18,62.79 401.74,62.83 402.30,62.86 402.86,62.90 403.43,62.93 403.99,62.96 404.56,63.00 405.12,63.03 405.69,63.06 406.26,63.09 406.83,63.12 407.40,63.15 407.98,63.18 408.55,63.21 409.12,63.24 409.70,63.27 410.28,63.30 410.86,63.33 411.43,63.36 412.01,63.38 412.60,63.41 413.18,63.44 413.76,63.46 414.34,63.49 414.93,63.51 415.52,63.54 416.10,63.56 416.69,63.58 417.28,63.61 417.87,63.63 418.46,63.65 419.05,63.67 419.64,63.70 420.24,63.72 420.83,63.74 421.42,63.76 422.02,63.78 422.61,63.80 423.21,63.82 423.81,63.84 424.41,63.85 425.01,63.87 425.61,63.89 426.21,63.91 426.81,63.92 427.41,63.94 428.01,63.96 428.61,63.97 429.22,63.99 429.82,64.00 430.43,64.02 431.03,64.03 431.64,64.04 432.24,64.06 432.85,64.07 433.46,64.08 434.07,64.09 434.67,64.11 435.28,64.12 435.89,64.13 436.50,64.14 437.11,64.15 437.72,64.16 438.33,64.17 438.94,64.18 439.55,64.19 440.17,64.20 440.78,64.20 441.39,64.21 442.00,64.22 442.62,64.23 443.23,64.23 443.84,64.24 444.46,64.24 445.07,64.25 445.69,64.26 446.30,64.26 446.91,64.26 447.53,64.27 448.14,64.27 448.76,64.28 449.38,64.28 449.99,64.28 450.61,64.28 451.22,64.29 451.84,64.29 452.45,64.29 453.07,64.29 453.68,64.29 454.30,64.29 454.92,64.29 455.53,64.29 456.15,64.29 456.76,64.29 457.38,64.29 457.99,64.28 458.61,64.28 459.22,64.28 459.84,64.28 460.46,64.27 461.07,64.27 461.69,64.26 462.30,64.26 462.91,64.26 463.53,64.25 464.14,64.24 464.76,64.24 465.37,64.23 465.98,64.23 466.60,64.22 467.21,64.21 467.82,64.20 468.43,64.20 469.05,64.19 469.66,64.18 470.27,64.17 470.88,64.16 471.49,64.15 472.10,64.14 472.71,64.13 473.32,64.12 473.93,64.11 474.53,64.09 475.14,64.08 475.75,64.07 476.36,64.06 476.96,64.04 477.57,64.03 478.17,64.02 478.78,64.00 479.38,63.99 479.99,63.97 480.59,63.96 481.19,63.94 481.79,63.92 482.39,63.91 482.99,63.89 483.59,63.87 484.19,63.85 484.79,63.84 485.39,63.82 485.99,63.80 486.58,63.78 487.18,63.76 487.77,63.74 488.36,63.72 488.96,63.70 489.55,63.67 490.14,63.65 490.73,63.63 491.32,63.61 491.91,63.58 492.50,63.56 493.08,63.54 493.67,63.51 494.26,63.49 494.84,63.46 495.42,63.44 496.00,63.41 496.59,63.38 497.17,63.36 497.74,63.33 498.32,63.30 498.90,63.27 499.48,63.24 500.05,63.21 500.62,63.18 501.20,63.15 501.77,63.12 502.34,63.09 502.91,63.06 503.48,63.03 504.04,63.00 504.61,62.96 505.17,62.93 505.74,62.90 506.30,62.86 506.86,62.83 507.42,62.79 507.98,62.76 508.53,62.72 509.09,62.68 509.64,62.64 510.19,62.61 510.75,62.57 511.30,62.53 511.84,62.49 512.39,62.45 512.94,62.41 513.48,62.37 514.02,62.33 514.56,62.29 515.10,62.24 515.64,62.20 516.18,62.16 516.71,62.11 517.25,62.07 517.78,62.02 518.31,61.98 518.84,61.93 519.37,61.88 519.89,61.83 520.41,61.79 520.94,61.74 521.46,61.69 521.98,61.64 522.49,61.59 523.01,61.54 523.52,61.48 524.03,61.43 524.54,61.38 525.05,61.32 525.56,61.27 526.06,61.22 526.56,61.16 527.06,61.10 527.56,61.05 528.06,60.99 528.55,60.93 529.04,60.87 529.53,60.81 530.02,60.75 530.51,60.69 530.99,60.63 531.48,60.57 531.96,60.50 532.43,60.44 532.91,60.37 533.38,60.31 533.86,60.24 534.33,60.17 534.79,60.11 535.26,60.04 535.72,59.97 536.18,59.90 536.64,59.83 537.10,59.76 537.55,59.68 538.00,59.61 538.45,59.54 538.90,59.46 539.34,59.39 539.78,59.31 540.22,59.23 540.66,59.15 541.09,59.07 541.52,58.99 541.95,58.91 542.38,58.83 542.80,58.75 543.22,58.66 543.64,58.58 544.06,58.49 544.47,58.41 544.88,58.32 545.29,58.23 545.69,58.14 546.10,58.05 546.49,57.96 546.89,57.86 547.28,57.77 547.67,57.67 548.06,57.58 548.45,57.48 548.83,57.38 549.21,57.28 549.58,57.18 549.95,57.08 550.32,56.98 550.69,56.88" fill="none" stroke="#a0a0a0" stroke-width="1"/>
<polyline points="375.60,45.41 375.84,45.53 376.09,45.65 376.34,45.77 376.60,45.89 376.86,46.00 377.12,46.12 377.39,46.23 377.66,46.34 377.93,46.45 378.21,46.56 378.49,46.67 378.77,46.78 379.06,46.89 379.35,47.00 379.64,47.10 379.94,47.21 380.24,47.31 380.54,47.41 380.85,47.51 381.16,47.61 381.47,47.71 381.78,47.81 382.10,47.91 382.42,48.01 382.75,48.10 383.07,48.20 383.40,48.29 383.73,48.38 384.07,48.48 384.41,48.57 384.75,48.66 385.09,48.75 385.44,48.83 385.79,48.92 386.14,49.01 386.49,49.09 386.85,49.18 387.21,49.26 387.57,49.35 387.94,49.43 388.30,49.51 388.67,49.59 389.04,49.67 389.42,49.75 389.80,49.83 390.17,49.91 390.56,49.98 390.94,50.06 391.33,50.13 391.71,50.21 392.10,50.28 392.50,50.35 392.89,50.43 393.29,50.50 393.69,50.57 394.09,50.64 394.49,50.71 394.90,50.78 395.31,50.84 395.72,50.91 396.13,50.98 396.54,51.04 396.96,51.11 397.38,51.17 397.80,51.23 398.22,51.29 398.64,51.36 399.07,51.42 399.49,51.48 399.92,51.54 400.35,51.60 400.79,51.66 401.22,51.71 401.66,51.77 402.10,51.83 402.54,51.88 402.98,51.94 403.42,51.99 403.86,52.04 404.31,52.10 404.76,52.15 405.21,52.20 405.66,52.25 406.11,52.30 406.57,52.35 407.02,52.40 407.48,52.45 407.94,52.50 408.40,52.55 408.86,52.59 409.33,52.64 409.79,52.69 410.26,52.73 410.72,52.77 411.19,52.82 411.66,52.86 412.13,52.90 412.61,52.95 413.08,52.99 413.56,53.03 414.03,53.07 414.51,53.11 414.99,53.15 415.47,53.19 415.95,53.22 416.44,53.26 416.92,53.30 417.41,53.33 417.89,53.37 418.38,53.41 418.87,53.44 419.36,53.47 419.85,53.51 420.34,53.54 420.83,53.57 421.33,53.61 421.82,53.64 422.32,53.67 422.81,53.70 423.31,53.73 423.81,53.76 424.31,53.79 424.81,53.81 425.31,53.84 425.81,53.87 426.31,53.89 426.82,53.92 427.32,53.95 427.83,53.97 428.33,54.00 428.84,54.02 429.35,54.04 429.86,54.07 430.37,54.09 430.88,54.11 431.39,54.13 431.90,54.15 432.41,54.17 432.92,54.19 433.44,54.21 433.95,54.23 434.46,54.25 434.98,54.27 435.49,54.29 436.01,54.30 436.53,54.32 437.04,54.34 437.56,54.35 438.08,54.37 438.60,54.38 439.12,54.40 439.64,54.41 440.16,54.42 440.68,54.43 441.20,54.45 441.72,54.46 442.24,54.47 442.76,54.48 443.28,54.49 443.81,54.50 444.33,54.51 444.85,54.52 445.38,54.53 445.90,54.53 446.42,54.54 446.95,54.55 447.47,54.55 448.00,54.56 448.52,54.57 449.05,54.57 449.57,54.58 450.10,54.58 450.62,54.58 451.15,54.59 451.67,54.59 452.20,54.59 452.72,54.59 453.25,54.59 453.77,54.59 454.30,54.59 454.83,54.59 455.35,54.59 455.88,54.59 456.40,54.59 456.93,54.59 457.45,54.59 457.98,54.58 458.50,54.58 459.03,54.58 459.55,54.57 460.08,54.57 460.60,54.56 461.13,54.55 461.65,54.55 462.18,54.54 462.70,54.53 463.22,54.53 463.75,54.52 464.27,54.51 464.79,54.50 465.32,54.49 465.84,54.48 466.36,54.47 466.88,54.46 467.40,54.45 467.92,54.43 468.44,54.42 468.96,54.41 469.48,54.40 470.00,54.38 470.52,54.37 471.04,54.35 471.56,54.34 472.07,54.32 472.59,54.30 473.11,54.29 473.62,54.27 474.14,54.25 474.65,54.23 475.16,54.21 475.68,54.19 476.19,54.17 476.70,54.15 477.21,54.13 477.72,54.11 478.23,54.09 478.74,54.07 479.25,54.04 479.76,54.02 480.27,54.00 480.77,53.97 481.28,53.95 481.78,53.92 482.29,53.89 482.79,53.87 483.29,53.84 483.79,53.81 484.29,53.79 484.79,53.76 485.29,53.73 485.79,53.70 486.28,53.67 486.78,53.64 487.27,53.61 487.77,53.57 488.26,53.54 488.75,53.51 489.24,53.47 489.73,53.44 490.22,53.41 490.71,53.37 491.19,53.33 491.68,53.30 492.16,53.26 492.65,53.22 493.13,53.19 493.61,53.15 494.09,53.11 494.57,53.07 495.04,53.03 495.52,52.99 495.99,52.95 496.47,52.90 496.94,52.86 497.41,52.82 497.88,52.77 498.34,52.73 498.81,52.69 499.27,52.64 499.74,52.59 500.20,52.55 500.66,52.50 501.12,52.45 501.58,52.40 502.03,52.35 502.49,52.30 502.94,52.25 503.39,52.20 503.84,52.15 504.29,52.10 504.74,52.04 505.18,51.99 505.62,51.94 506.06,51.88 506.50,51.83 506.94,51.77 507.38,51.71 507.81,51.66 508.25,51.60 508.68,51.54 509.11,51.48 509.53,51.42 509.96,51.36 510.38,51.29 510.80,51.23 511.22,51.17 511.64,51.11 512.06,51.04 512.47,50.98 512.88,50.91 513.29,50.84 513.70,50.78 514.11,50.71 514.51,50.64 514.91,50.57 515.31,50.50 515.71,50.43 516.10,50.35 516.50,50.28 516.89,50.21 517.27,50.13 517.66,50.06 518.04,49.98 518.43,49.91 518.80,49.83 519.18,49.75 519.56,49.67 519.93,49.59 520.30,49.51 520.66,49.43 521.03,49.35 521.39,49.26 521.75,49.18 522.11,49.09 522.46,49.01 522.81,48.92 523.16,48.83 523.51,48.75 523.85,48.66 524.19,48.57 524.53,48.48 524.87,48.38 525.20,48.29 525.53,48.20 525.85,48.10 526.18,48.01 526.50,47.91 526.82,47.81 527.13,47.71 527.44,47.61 527.75,47.51 528.06,47.41 528.36,47.31 528.66,47.21 528.96,47.10 529.25,47.00 529.54,46.89 529.83,46.78 530.11,46.67 530.39,46.56 530.67,46.45 530.94,46.34 531.21,46.23 531.48,46.12 531.74,46.00 532.00,45.89 532.26,45.77 532.51,45.65 532.76,45.53 533.00,45.41" fill="none" stroke="#a0a0a0" stroke-width="1"/>
<polyline points="398.65,36.62 398.77,36.72 398.90,36.82 399.03,36.93 399.16,37.03 399.30,37.13 399.44,37.23 399.58,37.33 399.73,37.43 399.88,37.53 400.03,37.63 400.19,37.72 400.35,37.82 400.51,37.92 400.67,38.01 400.84,38.11 401.01,38.20 401.19,38.29 401.37,38.39 401.55,38.48 401.73,38.57 401.92,38.66 402.11,38.75 402.30,38.84 402.49,38.93 402.69,39.02 402.89,39.10 403.09,39.19 403.30,39.28 403.51,39.36 403.72,39.45 403.93,39.53 404.15,39.61 404.37,39.69 404.59,39.78 404.82,39.86 405.04,39.94 405.27,40.02 405.50,40.10 405.74,40.18 405.98,40.25 406.21,40.33 406.46,40.41 406.70,40.48 406.95,40.56 407.20,40.63 407.45,40.71 407.70,40.78 407.96,40.85 408.21,40.93 408.47,41.00 408.74,41.07 409.00,41.14 409.27,41.21 409.54,41.28 409.81,41.34 410.08,41.41 410.36,41.48 410.63,41.55 410.91,41.61 411.19,41.68 411.48,41.74 411.76,41.80 412.05,41.87 412.34,41.93 412.63,41.99 412.92,42.05 413.22,42.11 413.51,42.17 413.81,42.23 414.11,42.29 414.42,42.35 414.72,42.41 415.03,42.47 415.33,42.52 415.64,42.58 415.95,42.63 416.27,42.69 416.58,42.74 416.90,42.80 417.21,42.85 417.53,42.90 417.85,42.95 418.18,43.01 418.50,43.06 418.83,43.11 419.15,43.16 419.48,43.21 419.81,43.25 420.14,43.30 420.48,43.35 420.81,43.40 421.15,43.44 421.48,43.49 421.82,43.53 422.16,43.58 422.50,43.62 422.85,43.66 423.19,43.71 423.54,43.75 423.88,43.79 424.23,43.83 424.58,43.87 424.93,43.91 425.28,43.95 425.63,43.99 425.99,44.03 426.34,44.07 426.70,44.10 427.06,44.14 427.41,44.18 427.77,44.21 428.13,44.25 428.50,44.28 428.86,44.31 429.22,44.35 429.59,44.38 429.95,44.41 430.32,44.45 430.69,44.48 431.06,44.51 431.43,44.54 431.80,44.57 432.17,44.60 432.54,44.63 432.91,44.65 433.29,44.68 433.66,44.71 434.04,44.73 434.41,44.76 434.79,44.79 435.17,44.81 435.55,44.84 435.93,44.86 436.31,44.88 436.69,44.91 437.07,44.93 437.45,44.95 437.83,44.97 438.22,44.99 438.60,45.01 438.99,45.03 439.37,45.05 439.76,45.07 440.14,45.09 440.53,45.11 440.92,45.12 441.31,45.14 441.69,45.16 442.08,45.17 442.47,45.19 442.86,45.20 443.25,45.22 443.64,45.23 444.03,45.24 444.43,45.26 444.82,45.27 445.21,45.28 445.60,45.29 446.00,45.30 446.39,45.31 446.78,45.32 447.18,45.33 447.57,45.34 447.97,45.35 448.36,45.36 448.76,45.36 449.15,45.37 449.55,45.38 449.94,45.38 450.34,45.39 450.73,45.39 451.13,45.40 451.53,45.40 451.92,45.40 452.32,45.41 452.71,45.41 453.11,45.41 453.51,45.41 453.90,45.41 454.30,45.41 454.70,45.41 455.09,45.41 455.49,45.41 455.89,45.41 456.28,45.41 456.68,45.40 457.07,45.40 457.47,45.40 457.87,45.39 458.26,45.39 458.66,45.38 459.05,45.38 459.45,45.37 459.84,45.36 460.24,45.36 460.63,45.35 461.03,45.34 461.42,45.33 461.82,45.32 462.21,45.31 462.60,45.30 463.00,45.29 463.39,45.28 463.78,45.27 464.17,45.26 464.57,45.24 464.96,45.23 465.35,45.22 465.74,45.20 466.13,45.19 466.52,45.17 466.91,45.16 467.29,45.14 467.68,45.12 468.07,45.11 468.46,45.09 468.84,45.07 469.23,45.05 469.61,45.03 470.00,45.01 470.38,44.99 470.77,44.97 471.15,44.95 471.53,44.93 471.91,44.91 472.29,44.88 472.67,44.86 473.05,44.84 473.43,44.81 473.81,44.79 474.19,44.76 474.56,44.73 474.94,44.71 475.31,44.68 475.69,44.65 476.06,44.63 476.43,44.60 476.80,44.57 477.17,44.54 477.54,44.51 477.91,44.48 478.28,44.45 478.65,44.41 479.01,44.38 479.38,44.35 479.74,44.31 480.10,44.28 480.47,44.25 480.83,44.21 481.19,44.18 481.54,44.14 481.90,44.10 482.26,44.07 482.61,44.03 482.97,43.99 483.32,43.95 483.67,43.91 484.02,43.87 484.37,43.83 484.72,43.79 485.06,43.75 485.41,43.71 485.75,43.66 486.10,43.62 486.44,43.58 486.78,43.53 487.12,43.49 487.45,43.44 487.79,43.40 488.12,43.35 488.46,43.30 488.79,43.25 489.12,43.21 489.45,43.16 489.77,43.11 490.10,43.06 490.42,43.01 490.75,42.95 491.07,42.90 491.39,42.85 491.70,42.80 492.02,42.74 492.33,42.69 492.65,42.63 492.96,42.58 493.27,42.52 493.57,42.47 493.88,42.41 494.18,42.35 494.49,42.29 494.79,42.23 495.09,42.17 495.38,42.11 495.68,42.05 495.97,41.99 496.26,41.93 496.55,41.87 496.84,41.80 497.12,41.74 497.41,41.68 497.69,41.61 497.97,41.55 498.24,41.48 498.52,41.41 498.79,41.34 499.06,41.28 499.33,41.21 499.60,41.14 499.86,41.07 500.13,41.00 500.39,40.93 500.64,40.85 500.90,40.78 501.15,40.71 501.40,40.63 501.65,40.56 501.90,40.48 502.14,40.41 502.39,40.33 502.62,40.25 502.86,40.18 503.10,40.10 503.33,40.02 503.56,39.94 503.78,39.86 504.01,39.78 504.23,39.69 504.45,39.61 504.67,39.53 504.88,39.45 505.09,39.36 505.30,39.28 505.51,39.19 505.71,39.10 505.91,39.02 506.11,38.93 506.30,38.84 506.49,38.75 506.68,38.66 506.87,38.57 507.05,38.48 507.23,38.39 507.41,38.29 507.59,38.20 507.76,38.11 507.93,38.01 508.09,37.92 508.25,37.82 508.41,37.72 508.57,37.63 508.72,37.53 508.87,37.43 509.02,37.33 509.16,37.23 509.30,37.13 509.44,37.03 509.57,36.93 509.70,36.82 509.83,36.72 509.95,36.62" fill="none" stroke="#a0a0a0" stroke-width="1"/>
<polyline points="425.49,31.09 425.53,31.15 425.56,31.21 425.60,31.27 425.64,31.33 425.68,31.39 425.73,31.44 425.77,31.50 425.82,31.56 425.87,31.62 425.92,31.68 425.98,31.74 426.03,31.79 426.09,31.85 426.15,31.91 426.21,31.97 426.27,32.02 426.34,32.08 426.41,32.14 426.48,32.19 426.55,32.25 426.62,32.30 426.70,32.36 426.77,32.41 426.85,32.47 426.93,32.52 427.01,32.58 427.10,32.63 427.19,32.69 427.27,32.74 427.36,32.79 427.45,32.84 427.55,32.90 427.64,32.95 427.74,33.00 427.84,33.05 427.94,33.10 428.04,33.15 428.14,33.21 428.25,33.26 428.35,33.31 428.46,33.36 428.57,33.41 428.69,33.45 428.80,33.50 428.91,33.55 429.03,33.60 429.15,33.65 429.27,33.70 429.39,33.74 429.51,33.79 429.64,33.84 429.76,33.88 429.89,33.93 430.02,33.97 430.15,34.02 430.28,34.07 430.42,34.11 430.55,34.15 430.69,34.20 430.83,34.24 430.96,34.29 431.11,34.33 431.25,34.37 431.39,34.41 431.54,34.46 431.68,34.50 431.83,34.54 431.98,34.58 432.13,34.62 432.28,34.66 432.43,34.70 432.59,34.74 432.74,34.78 432.90,34.82 433.06,34.86 433.22,34.90 433.38,34.93 433.54,34.97 433.70,35.01 433.87,35.05 434.03,35.08 434.20,35.12 434.37,35.15 434.54,35.19 434.71,35.22 434.88,35.26 435.05,35.29 435.22,35.33 435.40,35.36 435.57,35.40 435.75,35.43 435.93,35.46 436.11,35.49 436.29,35.52 436.47,35.56 436.65,35.59 436.83,35.62 437.01,35.65 437.20,35.68 437.38,35.71 437.57,35.74 437.76,35.77 437.95,35.80 438.14,35.82 438.33,35.85 438.52,35.88 438.71,35.91 438.90,35.93 439.10,35.96 439.29,35.99 439.49,36.01 439.68,36.04 439.88,36.06 440.08,36.09 440.28,36.11 440.48,36.14 440.68,36.16 440.88,36.18 441.08,36.21 441.28,36.23 441.49,36.25 441.69,36.27 441.89,36.29 442.10,36.31 442.30,36.33 442.51,36.36 442.72,36.37 442.93,36.39 443.13,36.41 443.34,36.43 443.55,36.45 443.76,36.47 443.97,36.49 444.18,36.50 444.40,36.52 444.61,36.54 444.82,36.55 445.04,36.57 445.25,36.58 445.46,36.60 445.68,36.61 445.89,36.63 446.11,36.64 446.33,36.66 446.54,36.67 446.76,36.68 446.98,36.70 447.19,36.71 447.41,36.72 447.63,36.73 447.85,36.74 448.07,36.75 448.29,36.76 448.51,36.77 448.73,36.78 448.95,36.79 449.17,36.80 449.39,36.81 449.61,36.82 449.83,36.82 450.06,36.83 450.28,36.84 450.50,36.84 450.72,36.85 450.95,36.86 451.17,36.86 451.39,36.87 451.61,36.87 451.84,36.88 452.06,36.88 452.28,36.88 452.51,36.89 452.73,36.89 452.96,36.89 453.18,36.89 453.40,36.90 453.63,36.90 453.85,36.90 454.08,36.90 454.30,36.90 454.52,36.90 454.75,36.90 454.97,36.90 455.20,36.90 455.42,36.89 455.64,36.89 455.87,36.89 456.09,36.89 456.32,36.88 456.54,36.88 456.76,36.88 456.99,36.87 457.21,36.87 457.43,36.86 457.65,36.86 457.88,36.85 458.10,36.84 458.32,36.84 458.54,36.83 458.77,36.82 458.99,36.82 459.21,36.81 459.43,36.80 459.65,36.79 459.87,36.78 460.09,36.77 460.31,36.76 460.53,36.75 460.75,36.74 460.97,36.73 461.19,36.72 461.41,36.71 461.62,36.70 461.84,36.68 462.06,36.67 462.27,36.66 462.49,36.64 462.71,36.63 462.92,36.61 463.14,36.60 463.35,36.58 463.56,36.57 463.78,36.55 463.99,36.54 464.20,36.52 464.42,36.50 464.63,36.49 464.84,36.47 465.05,36.45 465.26,36.43 465.47,36.41 465.67,36.39 465.88,36.37 466.09,36.36 466.30,36.33 466.50,36.31 466.71,36.29 466.91,36.27 467.11,36.25 467.32,36.23 467.52,36.21 467.72,36.18 467.92,36.16 468.12,36.14 468.32,36.11 468.52,36.09 468.72,36.06 468.92,36.04 469.11,36.01 469.31,35.99 469.50,35.96 469.70,35.93 469.89,35.91 470.08,35.88 470.27,35.85 470.46,35.82 470.65,35.80 470.84,35.77 471.03,35.74 471.22,35.71 471.40,35.68 471.59,35.65 471.77,35.62 471.95,35.59 472.13,35.56 472.31,35.52 472.49,35.49 472.67,35.46 472.85,35.43 473.03,35.40 473.20,35.36 473.38,35.33 473.55,35.29 473.72,35.26 473.89,35.22 474.06,35.19 474.23,35.15 474.40,35.12 474.57,35.08 474.73,35.05 474.90,35.01 475.06,34.97 475.22,34.93 475.38,34.90 475.54,34.86 475.70,34.82 475.86,34.78 476.01,34.74 476.17,34.70 476.32,34.66 476.47,34.62 476.62,34.58 476.77,34.54 476.92,34.50 477.06,34.46 477.21,34.41 477.35,34.37 477.49,34.33 477.64,34.29 477.77,34.24 477.91,34.20 478.05,34.15 478.18,34.11 478.32,34.07 478.45,34.02 478.58,33.97 478.71,33.93 478.84,33.88 478.96,33.84 479.09,33.79 479.21,33.74 479.33,33.70 479.45,33.65 479.57,33.60 479.69,33.55 479.80,33.50 479.91,33.45 480.03,33.41 480.14,33.36 480.25,33.31 480.35,33.26 480.46,33.21 480.56,33.15 480.66,33.10 480.76,33.05 480.86,33.00 480.96,32.95 481.05,32.90 481.15,32.84 481.24,32.79 481.33,32.74 481.41,32.69 481.50,32.63 481.59,32.58 481.67,32.52 481.75,32.47 481.83,32.41 481.90,32.36 481.98,32.30 482.05,32.25 482.12,32.19 482.19,32.14 482.26,32.08 482.33,32.02 482.39,31.97 482.45,31.91 482.51,31.85 482.57,31.79 482.62,31.74 482.68,31.68 482.73,31.62 482.78,31.56 482.83,31.50 482.87,31.44 482.92,31.39 482.96,31.33 483.00,31.27 483.04,31.21 483.07,31.15 483.11,31.09" fill="none" stroke="#a0a0a0" stroke-width="1"/>
<polyline points="427.36,136.31 425.67,135.95 423.99,135.59 422.33,135.20 420.69,134.81 419.06,134.40 417.44,133.98 415.85,133.55 414.27,133.10 412.71,132.65 411.16,132.18 409.64,131.70 408.13,131.20 406.64,130.70 405.17,130.18 403.72,129.65 402.29,129.12 400.88,128.57 399.48,128.01 398.11,127.44 396.76,126.86 395.43,126.27 394.12,125.67 392.83,125.06 391.56,124.44 390.31,123.81 389.09,123.17 387.88,122.53 386.70,121.87 385.54,121.21 384.41,120.53 383.29,119.85 382.20,119.16 381.13,118.47 380.09,117.76 379.07,117.05 378.07,116.33 377.09,115.61 376.14,114.87 375.21,114.13 374.31,113.39 373.43,112.63 372.57,111.88 371.74,111.11 370.93,110.34 370.15,109.56 369.39,108.78 368.66,107.99 367.95,107.20 367.27,106.40 366.61,105.60 365.98,104.80 365.37,103.99 364.78,103.17 364.23,102.35 363.69,101.53 363.19,100.70 362.71,99.87 362.25,99.04 361.82,98.20 361.42,97.36 361.04,96.52 360.69,95.68 360.36,94.83 360.06,93.98 359.79,93.13 359.54,92.28 359.32,91.42 359.12,90.57 358.95,89.71 358.81,88.85 358.69,87.99 358.60,87.13 358.53,86.27 358.49,85.41 358.48,84.55 358.49,83.69 358.53,82.83 358.60,81.97 358.69,81.11 358.81,80.25 358.95,79.39 359.12,78.53 359.32,77.68 359.54,76.82 359.79,75.97 360.06,75.12 360.36,74.27 360.69,73.42 361.04,72.58 361.42,71.74 361.82,70.90 362.25,70.06 362.71,69.23 363.19,68.40 363.69,67.57 364.23,66.75 364.78,65.93 365.37,65.11 365.98,64.30 366.61,63.50 367.27,62.70 367.95,61.90 368.66,61.11 369.39,60.32 370.15,59.54 370.93,58.76 371.74,57.99 372.57,57.22 373.43,56.47 374.31,55.71 375.21,54.97 376.14,54.23 377.09,53.49 378.07,52.77 379.07,52.05 380.09,51.34 381.13,50.63 382.20,49.94 383.29,49.25 384.41,48.57 385.54,47.89 386.70,47.23 387.88,46.57 389.09,45.93 390.31,45.29 391.56,44.66 392.83,44.04 394.12,43.43 395.43,42.83 396.76,42.24 398.11,41.66 399.48,41.09 400.88,40.53 402.29,39.98 403.72,39.45 405.17,38.92 406.64,38.40 408.13,37.90 409.64,37.40 411.16,36.92 412.71,36.45 414.27,36.00 415.85,35.55 417.44,35.12 419.06,34.70 420.69,34.29 422.33,33.90 423.99,33.51 425.67,33.15 427.36,32.79" fill="none" stroke="#a0a0a0" stroke-width="1"/>
<polyline points="430.83,134.86 429.39,134.43 427.98,133.99 426.58,133.54 425.20,133.08 423.84,132.61 422.49,132.14 421.16,131.65 419.85,131.15 418.56,130.64 417.29,130.13 416.03,129.60 414.80,129.07 413.58,128.53 412.38,127.98 411.19,127.42 410.03,126.86 408.89,126.28 407.76,125.70 406.65,125.12 405.56,124.52 404.49,123.92 403.44,123.31 402.41,122.69 401.40,122.07 400.40,121.44 399.43,120.80 398.47,120.16 397.53,119.51 396.62,118.85 395.72,118.19 394.84,117.52 393.98,116.85 393.14,116.17 392.32,115.49 391.51,114.80 390.73,114.11 389.97,113.41 389.22,112.71 388.50,112.00 387.80,111.29 387.11,110.57 386.45,109.85 385.80,109.13 385.17,108.40 384.57,107.67 383.98,106.93 383.41,106.19 382.87,105.45 382.34,104.70 381.83,103.95 381.34,103.20 380.88,102.45 380.43,101.69 380.00,100.93 379.59,100.16 379.20,99.40 378.83,98.63 378.48,97.86 378.15,97.09 377.85,96.31 377.56,95.54 377.29,94.76 377.04,93.98 376.81,93.20 376.60,92.42 376.41,91.63 376.24,90.85 376.09,90.06 375.96,89.28 375.85,88.49 375.76,87.70 375.69,86.92 375.64,86.13 375.61,85.34 375.60,84.55 375.61,83.76 375.64,82.97 375.69,82.18 375.76,81.40 375.85,80.61 375.96,79.82 376.09,79.04 376.24,78.25 376.41,77.47 376.60,76.68 376.81,75.90 377.04,75.12 377.29,74.34 377.56,73.56 377.85,72.79 378.15,72.01 378.48,71.24 378.83,70.47 379.20,69.70 379.59,68.94 380.00,68.17 380.43,67.41 380.88,66.65 381.34,65.90 381.83,65.15 382.34,64.40 382.87,63.65 383.41,62.91 383.98,62.17 384.57,61.43 385.17,60.70 385.80,59.97 386.45,59.25 387.11,58.53 387.80,57.81 388.50,57.10 389.22,56.39 389.97,55.69 390.73,54.99 391.51,54.30 392.32,53.61 393.14,52.93 393.98,52.25 394.84,51.58 395.72,50.91 396.62,50.25 397.53,49.59 398.47,48.94 399.43,48.30 400.40,47.66 401.40,47.03 402.41,46.41 403.44,45.79 404.49,45.18 405.56,44.58 406.65,43.98 407.76,43.40 408.89,42.82 410.03,42.24 411.19,41.68 412.38,41.12 413.58,40.57 414.80,40.03 416.03,39.50 417.29,38.97 418.56,38.46 419.85,37.95 421.16,37.45 422.49,36.96 423.84,36.49 425.20,36.02 426.58,35.56 427.98,35.11 429.39,34.67 430.83,34.24" fill="none" stroke="#a0a0a0" stroke-width="1"/>
<polyline points="435.57,133.70 434.45,133.22 433.35,132.73 432.27,132.24 431.20,131.73 430.15,131.22 429.11,130.71 428.09,130.18 427.08,129.65 426.09,129.11 425.12,128.57 424.16,128.02 423.21,127.46 422.29,126.90 421.37,126.33 420.48,125.75 419.60,125.17 418.73,124.58 417.88,123.99 417.04,123.40 416.22,122.79 415.42,122.19 414.63,121.57 413.86,120.96 413.10,120.33 412.35,119.71 411.63,119.08 410.91,118.44 410.21,117.80 409.53,117.15 408.86,116.51 408.21,115.85 407.57,115.20 406.95,114.54 406.34,113.87 405.74,113.20 405.17,112.53 404.60,111.86 404.05,111.18 403.52,110.50 403.00,109.81 402.49,109.13 402.01,108.43 401.53,107.74 401.07,107.04 400.62,106.34 400.19,105.64 399.78,104.94 399.38,104.23 398.99,103.52 398.62,102.81 398.26,102.10 397.92,101.38 397.59,100.66 397.28,99.94 396.98,99.22 396.69,98.50 396.42,97.78 396.17,97.05 395.93,96.32 395.70,95.59 395.49,94.86 395.29,94.13 395.11,93.40 394.95,92.66 394.79,91.93 394.65,91.19 394.53,90.46 394.42,89.72 394.33,88.98 394.25,88.25 394.18,87.51 394.13,86.77 394.09,86.03 394.07,85.29 394.06,84.55 394.07,83.81 394.09,83.07 394.13,82.33 394.18,81.59 394.25,80.85 394.33,80.12 394.42,79.38 394.53,78.64 394.65,77.91 394.79,77.17 394.95,76.44 395.11,75.70 395.29,74.97 395.49,74.24 395.70,73.51 395.93,72.78 396.17,72.05 396.42,71.32 396.69,70.60 396.98,69.88 397.28,69.16 397.59,68.44 397.92,67.72 398.26,67.00 398.62,66.29 398.99,65.58 399.38,64.87 399.78,64.16 400.19,63.46 400.62,62.76 401.07,62.06 401.53,61.36 402.01,60.67 402.49,59.97 403.00,59.29 403.52,58.60 404.05,57.92 404.60,57.24 405.17,56.57 405.74,55.90 406.34,55.23 406.95,54.56 407.57,53.90 408.21,53.25 408.86,52.59 409.53,51.95 410.21,51.30 410.91,50.66 411.63,50.02 412.35,49.39 413.10,48.77 413.86,48.14 414.63,47.53 415.42,46.91 416.22,46.31 417.04,45.70 417.88,45.11 418.73,44.52 419.60,43.93 420.48,43.35 421.37,42.77 422.29,42.20 423.21,41.64 424.16,41.08 425.12,40.53 426.09,39.99 427.08,39.45 428.09,38.92 429.11,38.39 430.15,37.88 431.20,37.37 432.27,36.86 433.35,36.37 434.45,35.88 435.57,35.40" fill="none" stroke="#a0a0a0" stroke-width="1"/>
<polyline points="441.28,132.87 440.52,132.36 439.77,131.83 439.03,131.31 438.30,130.77 437.58,130.23 436.88,129.69 436.19,129.14 435.50,128.59 434.84,128.03 434.18,127.47 433.53,126.90 432.90,126.33 432.27,125.76 431.66,125.18 431.06,124.59 430.47,124.00 429.88,123.41 429.32,122.82 428.76,122.21 428.21,121.61 427.67,121.00 427.15,120.39 426.63,119.78 426.12,119.16 425.63,118.53 425.15,117.91 424.67,117.28 424.21,116.65 423.75,116.01 423.31,115.37 422.88,114.73 422.45,114.09 422.04,113.44 421.64,112.79 421.25,112.14 420.86,111.48 420.49,110.82 420.13,110.16 419.78,109.50 419.43,108.83 419.10,108.16 418.78,107.49 418.47,106.82 418.16,106.15 417.87,105.47 417.58,104.79 417.31,104.11 417.05,103.43 416.79,102.74 416.55,102.06 416.31,101.37 416.09,100.68 415.87,99.99 415.67,99.30 415.47,98.61 415.28,97.91 415.11,97.22 414.94,96.52 414.78,95.82 414.63,95.12 414.50,94.42 414.37,93.72 414.25,93.02 414.14,92.31 414.04,91.61 413.95,90.91 413.87,90.20 413.79,89.50 413.73,88.79 413.68,88.08 413.64,87.38 413.60,86.67 413.58,85.96 413.57,85.26 413.56,84.55 413.57,83.84 413.58,83.14 413.60,82.43 413.64,81.72 413.68,81.02 413.73,80.31 413.79,79.60 413.87,78.90 413.95,78.19 414.04,77.49 414.14,76.79 414.25,76.08 414.37,75.38 414.50,74.68 414.63,73.98 414.78,73.28 414.94,72.58 415.11,71.88 415.28,71.19 415.47,70.49 415.67,69.80 415.87,69.11 416.09,68.42 416.31,67.73 416.55,67.04 416.79,66.36 417.05,65.67 417.31,64.99 417.58,64.31 417.87,63.63 418.16,62.95 418.47,62.28 418.78,61.61 419.10,60.94 419.43,60.27 419.78,59.60 420.13,58.94 420.49,58.28 420.86,57.62 421.25,56.96 421.64,56.31 422.04,55.66 422.45,55.01 422.88,54.37 423.31,53.73 423.75,53.09 424.21,52.45 424.67,51.82 425.15,51.19 425.63,50.57 426.12,49.94 426.63,49.32 427.15,48.71 427.67,48.10 428.21,47.49 428.76,46.89 429.32,46.28 429.88,45.69 430.47,45.10 431.06,44.51 431.66,43.92 432.27,43.34 432.90,42.77 433.53,42.20 434.18,41.63 434.84,41.07 435.50,40.51 436.19,39.96 436.88,39.41 437.58,38.87 438.30,38.33 439.03,37.79 439.77,37.27 440.52,36.74 441.28,36.23" fill="none" stroke="#a0a0a0" stroke-width="1"/>
<polyline points="447.63,132.37 447.24,131.83 446.86,131.29 446.49,130.75 446.12,130.20 445.76,129.64 445.40,129.09 445.05,128.53 444.71,127.96 444.37,127.39 444.04,126.82 443.72,126.25 443.40,125.67 443.08,125.09 442.77,124.50 442.47,123.91 442.18,123.32 441.89,122.73 441.60,122.13 441.32,121.53 441.05,120.92 440.78,120.31 440.51,119.70 440.26,119.09 440.00,118.47 439.76,117.85 439.51,117.23 439.28,116.61 439.05,115.98 438.82,115.35 438.60,114.72 438.38,114.08 438.17,113.45 437.97,112.81 437.77,112.17 437.57,111.52 437.38,110.88 437.19,110.23 437.01,109.58 436.84,108.93 436.67,108.27 436.50,107.61 436.34,106.96 436.19,106.30 436.04,105.64 435.89,104.97 435.75,104.31 435.61,103.64 435.48,102.97 435.36,102.30 435.24,101.63 435.12,100.96 435.01,100.28 434.90,99.61 434.80,98.93 434.70,98.26 434.61,97.58 434.52,96.90 434.44,96.22 434.36,95.54 434.29,94.85 434.22,94.17 434.15,93.49 434.10,92.80 434.04,92.12 433.99,91.43 433.95,90.74 433.91,90.06 433.87,89.37 433.84,88.68 433.81,87.99 433.79,87.31 433.78,86.62 433.76,85.93 433.76,85.24 433.75,84.55 433.76,83.86 433.76,83.17 433.78,82.48 433.79,81.79 433.81,81.11 433.84,80.42 433.87,79.73 433.91,79.04 433.95,78.36 433.99,77.67 434.04,76.98 434.10,76.30 434.15,75.61 434.22,74.93 434.29,74.25 434.36,73.56 434.44,72.88 434.52,72.20 434.61,71.52 434.70,70.84 434.80,70.17 434.90,69.49 435.01,68.82 435.12,68.14 435.24,67.47 435.36,66.80 435.48,66.13 435.61,65.46 435.75,64.79 435.89,64.13 436.04,63.46 436.19,62.80 436.34,62.14 436.50,61.49 436.67,60.83 436.84,60.17 437.01,59.52 437.19,58.87 437.38,58.22 437.57,57.58 437.77,56.93 437.97,56.29 438.17,55.65 438.38,55.02 438.60,54.38 438.82,53.75 439.05,53.12 439.28,52.49 439.51,51.87 439.76,51.25 440.00,50.63 440.26,50.01 440.51,49.40 440.78,48.79 441.05,48.18 441.32,47.57 441.60,46.97 441.89,46.37 442.18,45.78 442.47,45.19 442.77,44.60 443.08,44.01 443.40,43.43 443.72,42.85 444.04,42.28 444.37,41.71 444.71,41.14 445.05,40.57 445.40,40.01 445.76,39.46 446.12,38.90 446.49,38.35 446.86,37.81 447.24,37.27 447.63,36.73" fill="none" stroke="#a0a0a0" stroke-width="1"/>
<polyline points="454.30,132.20 454.30,131.66 454.30,131.11 454.30,130.56 454.30,130.01 454.30,129.45 454.30,128.89 454.30,128.32 454.30,127.75 454.30,127.18 454.30,126.61 454.30,126.03 454.30,125.45 454.30,124.87 454.30,124.28 454.30,123.69 454.30,123.10 454.30,122.50 454.30,121.90 454.30,121.30 454.30,120.69 454.30,120.09 454.30,119.48 454.30,118.86 454.30,118.25 454.30,117.63 454.30,117.01 454.30,116.39 454.30,115.76 454.30,115.14 454.30,114.51 454.30,113.87 454.30,113.24 454.30,112.60 454.30,111.96 454.30,111.32 454.30,110.68 454.30,110.03 454.30,109.39 454.30,108.74 454.30,108.09 454.30,107.44 454.30,106.78 454.30,106.13 454.30,105.47 454.30,104.81 454.30,104.15 454.30,103.49 454.30,102.82 454.30,102.16 454.30,101.49 454.30,100.82 454.30,100.16 454.30,99.49 454.30,98.81 454.30,98.14 454.30,97.47 454.30,96.80 454.30,96.12 454.30,95.44 454.30,94.77 454.30,94.09 454.30,93.41 454.30,92.73 454.30,92.05 454.30,91.37 454.30,90.69 454.30,90.01 454.30,89.33 454.30,88.65 454.30,87.96 454.30,87.28 454.30,86.60 454.30,85.92 454.30,85.23 454.30,84.55 454.30,83.87 454.30,83.18 454.30,82.50 454.30,81.82 454.30,81.14 454.30,80.45 454.30,79.77 454.30,79.09 454.30,78.41 454.30,77.73 454.30,77.05 454.30,76.37 454.30,75.69 454.30,75.01 454.30,74.33 454.30,73.66 454.30,72.98 454.30,72.30 454.30,71.63 454.30,70.96 454.30,70.29 454.30,69.61 454.30,68.94 454.30,68.28 454.30,67.61 454.30,66.94 454.30,66.28 454.30,65.61 454.30,64.95 454.30,64.29 454.30,63.63 454.30,62.97 454.30,62.32 454.30,61.66 454.30,61.01 454.30,60.36 454.30,59.71 454.30,59.07 454.30,58.42 454.30,57.78 454.30,57.14 454.30,56.50 454.30,55.86 454.30,55.23 454.30,54.59 454.30,53.96 454.30,53.34 454.30,52.71 454.30,52.09 454.30,51.47 454.30,50.85 454.30,50.24 454.30,49.62 454.30,49.01 454.30,48.41 454.30,47.80 454.30,47.20 454.30,46.60 454.30,46.00 454.30,45.41 454.30,44.82 454.30,44.23 454.30,43.65 454.30,43.07 454.30,42.49 454.30,41.92 454.30,41.35 454.30,40.78 454.30,40.21 454.30,39.65 454.30,39.09 454.30,38.54 454.30,37.99 454.30,37.44 454.30,36.90" fill="none" stroke="#a0a0a0" stroke-width="1"/>
<polyline points="460.97,132.37 461.36,131.83 461.74,131.29 462.11,130.75 462.48,130.20 462.84,129.64 463.20,129.09 463.55,128.53 463.89,127.96 464.23,127.39 464.56,126.82 464.88,126.25 465.20,125.67 465.52,125.09 465.83,124.50 466.13,123.91 466.42,123.32 466.71,122.73 467.00,122.13 467.28,121.53 467.55,120.92 467.82,120.31 468.09,119.70 468.34,119.09 468.60,118.47 468.84,117.85 469.09,117.23 469.32,116.61 469.55,115.98 469.78,115.35 470.00,114.72 470.22,114.08 470.43,113.45 470.63,112.81 470.83,112.17 471.03,111.52 471.22,110.88 471.41,110.23 471.59,109.58 471.76,108.93 471.93,108.27 472.10,107.61 472.26,106.96 472.41,106.30 472.56,105.64 472.71,104.97 472.85,104.31 472.99,103.64 473.12,102.97 473.24,102.30 473.36,101.63 473.48,100.96 473.59,100.28 473.70,99.61 473.80,98.93 473.90,98.26 473.99,97.58 474.08,96.90 474.16,96.22 474.24,95.54 474.31,94.85 474.38,94.17 474.45,93.49 474.50,92.80 474.56,92.12 474.61,91.43 474.65,90.74 474.69,90.06 474.73,89.37 474.76,88.68 474.79,87.99 474.81,87.31 474.82,86.62 474.84,85.93 474.84,85.24 474.85,84.55 474.84,83.86 474.84,83.17 474.82,82.48 474.81,81.79 474.79,81.11 474.76,80.42 474.73,79.73 474.69,79.04 474.65,78.36 474.61,77.67 474.56,76.98 474.50,76.30 474.45,75.61 474.38,74.93 474.31,74.25 474.24,73.56 474.16,72.88 474.08,72.20 473.99,71.52 473.90,70.84 473.80,70.17 473.70,69.49 473.59,68.82 473.48,68.14 473.36,67.47 473.24,66.80 473.12,66.13 472.99,65.46 472.85,64.79 472.71,64.13 472.56,63.46 472.41,62.80 472.26,62.14 472.10,61.49 471.93,60.83 471.76,60.17 471.59,59.52 471.41,58.87 471.22,58.22 471.03,57.58 470.83,56.93 470.63,56.29 470.43,55.65 470.22,55.02 470.00,54.38 469.78,53.75 469.55,53.12 469.32,52.49 469.09,51.87 468.84,51.25 468.60,50.63 468.34,50.01 468.09,49.40 467.82,48.79 467.55,48.18 467.28,47.57 467.00,46.97 466.71,46.37 466.42,45.78 466.13,45.19 465.83,44.60 465.52,44.01 465.20,43.43 464.88,42.85 464.56,42.28 464.23,41.71 463.89,41.14 463.55,40.57 463.20,40.01 462.84,39.46 462.48,38.90 462.11,38.35 461.74,37.81 461.36,37.27 460.97,36.73" fill="none" stroke="#a0a0a0" stroke-width="1"/>
<polyline points="467.32,132.87 468.08,132.36 468.83,131.83 469.57,131.31 470.30,130.77 471.02,130.23 471.72,129.69 472.41,129.14 473.10,128.59 473.76,128.03 474.42,127.47 475.07,126.90 475.70,126.33 476.33,125.76 476.94,125.18 477.54,124.59 478.13,124.00 478.72,123.41 479.28,122.82 479.84,122.21 480.39,121.61 480.93,121.00 481.45,120.39 481.97,119.78 482.48,119.16 482.97,118.53 483.45,117.91 483.93,117.28 484.39,116.65 484.85,116.01 485.29,115.37 485.72,114.73 486.15,114.09 486.56,113.44 486.96,112.79 487.35,112.14 487.74,111.48 488.11,110.82 488.47,110.16 488.82,109.50 489.17,108.83 489.50,108.16 489.82,107.49 490.13,106.82 490.44,106.15 490.73,105.47 491.02,104.79 491.29,104.11 491.55,103.43 491.81,102.74 492.05,102.06 492.29,101.37 492.51,100.68 492.73,99.99 492.93,99.30 493.13,98.61 493.32,97.91 493.49,97.22 493.66,96.52 493.82,95.82 493.97,95.12 494.10,94.42 494.23,93.72 494.35,93.02 494.46,92.31 494.56,91.61 494.65,90.91 494.73,90.20 494.81,89.50 494.87,88.79 494.92,88.08 494.96,87.38 495.00,86.67 495.02,85.96 495.03,85.26 495.04,84.55 495.03,83.84 495.02,83.14 495.00,82.43 494.96,81.72 494.92,81.02 494.87,80.31 494.81,79.60 494.73,78.90 494.65,78.19 494.56,77.49 494.46,76.79 494.35,76.08 494.23,75.38 494.10,74.68 493.97,73.98 493.82,73.28 493.66,72.58 493.49,71.88 493.32,71.19 493.13,70.49 492.93,69.80 492.73,69.11 492.51,68.42 492.29,67.73 492.05,67.04 491.81,66.36 491.55,65.67 491.29,64.99 491.02,64.31 490.73,63.63 490.44,62.95 490.13,62.28 489.82,61.61 489.50,60.94 489.17,60.27 488.82,59.60 488.47,58.94 488.11,58.28 487.74,57.62 487.35,56.96 486.96,56.31 486.56,55.66 486.15,55.01 485.72,54.37 485.29,53.73 484.85,53.09 484.39,52.45 483.93,51.82 483.45,51.19 482.97,50.57 482.48,49.94 481.97,49.32 481.45,48.71 480.93,48.10 480.39,47.49 479.84,46.89 479.28,46.28 478.72,45.69 478.13,45.10 477.54,44.51 476.94,43.92 476.33,43.34 475.70,42.77 475.07,42.20 474.42,41.63 473.76,41.07 473.10,40.51 472.41,39.96 471.72,39.41 471.02,38.87 470.30,38.33 469.57,37.79 468.83,37.27 468.08,36.74 467.32,36.23" fill="none" stroke="#a0a0a0" stroke-width="1"/>
<polyline points="473.03,133.70 474.15,133.22 475.25,132.73 476.33,132.24 477.40,131.73 478.45,131.22 479.49,130.71 480.51,130.18 481.52,129.65 482.51,129.11 483.48,128.57 484.44,128.02 485.39,127.46 486.31,126.90 487.23,126.33 488.12,125.75 489.00,125.17 489.87,124.58 490.72,123.99 491.56,123.40 492.38,122.79 493.18,122.19 493.97,121.57 494.74,120.96 495.50,120.33 496.25,119.71 496.97,119.08 497.69,118.44 498.39,117.80 499.07,117.15 499.74,116.51 500.39,115.85 501.03,115.20 501.65,114.54 502.26,113.87 502.86,113.20 503.43,112.53 504.00,111.86 504.55,111.18 505.08,110.50 505.60,109.81 506.11,109.13 506.59,108.43 507.07,107.74 507.53,107.04 507.98,106.34 508.41,105.64 508.82,104.94 509.22,104.23 509.61,103.52 509.98,102.81 510.34,102.10 510.68,101.38 511.01,100.66 511.32,99.94 511.62,99.22 511.91,98.50 512.18,97.78 512.43,97.05 512.67,96.32 512.90,95.59 513.11,94.86 513.31,94.13 513.49,93.40 513.65,92.66 513.81,91.93 513.95,91.19 514.07,90.46 514.18,89.72 514.27,88.98 514.35,88.25 514.42,87.51 514.47,86.77 514.51,86.03 514.53,85.29 514.54,84.55 514.53,83.81 514.51,83.07 514.47,82.33 514.42,81.59 514.35,80.85 514.27,80.12 514.18,79.38 514.07,78.64 513.95,77.91 513.81,77.17 513.65,76.44 513.49,75.70 513.31,74.97 513.11,74.24 512.90,73.51 512.67,72.78 512.43,72.05 512.18,71.32 511.91,70.60 511.62,69.88 511.32,69.16 511.01,68.44 510.68,67.72 510.34,67.00 509.98,66.29 509.61,65.58 509.22,64.87 508.82,64.16 508.41,63.46 507.98,62.76 507.53,62.06 507.07,61.36 506.59,60.67 506.11,59.97 505.60,59.29 505.08,58.60 504.55,57.92 504.00,57.24 503.43,56.57 502.86,55.90 502.26,55.23 501.65,54.56 501.03,53.90 500.39,53.25 499.74,52.59 499.07,51.95 498.39,51.30 497.69,50.66 496.97,50.02 496.25,49.39 495.50,48.77 494.74,48.14 493.97,47.53 493.18,46.91 492.38,46.31 491.56,45.70 490.72,45.11 489.87,44.52 489.00,43.93 488.12,43.35 487.23,42.77 486.31,42.20 485.39,41.64 484.44,41.08 483.48,40.53 482.51,39.99 481.52,39.45 480.51,38.92 479.49,38.39 478.45,37.88 477.40,37.37 476.33,36.86 475.25,36.37 474.15,35.88 473.03,35.40" fill="none" stroke="#a0a0a0" stroke-width="1"/>
<polyline points="477.77,134.86 479.21,134.43 480.62,133.99 482.02,133.54 483.40,133.08 484.76,132.61 486.11,132.14 487.44,131.65 488.75,131.15 490.04,130.64 491.31,130.13 492.57,129.60 493.80,129.07 495.02,128.53 496.22,127.98 497.41,127.42 498.57,126.86 499.71,126.28 500.84,125.70 501.95,125.12 503.04,124.52 504.11,123.92 505.16,123.31 506.19,122.69 507.20,122.07 508.20,121.44 509.17,120.80 510.13,120.16 511.07,119.51 511.98,118.85 512.88,118.19 513.76,117.52 514.62,116.85 515.46,116.17 516.28,115.49 517.09,114.80 517.87,114.11 518.63,113.41 519.38,112.71 520.10,112.00 520.80,111.29 521.49,110.57 522.15,109.85 522.80,109.13 523.43,108.40 524.03,107.67 524.62,106.93 525.19,106.19 525.73,105.45 526.26,104.70 526.77,103.95 527.26,103.20 527.72,102.45 528.17,101.69 528.60,100.93 529.01,100.16 529.40,99.40 529.77,98.63 530.12,97.86 530.45,97.09 530.75,96.31 531.04,95.54 531.31,94.76 531.56,93.98 531.79,93.20 532.00,92.42 532.19,91.63 532.36,90.85 532.51,90.06 532.64,89.28 532.75,88.49 532.84,87.70 532.91,86.92 532.96,86.13 532.99,85.34 533.00,84.55 532.99,83.76 532.96,82.97 532.91,82.18 532.84,81.40 532.75,80.61 532.64,79.82 532.51,79.04 532.36,78.25 532.19,77.47 532.00,76.68 531.79,75.90 531.56,75.12 531.31,74.34 531.04,73.56 530.75,72.79 530.45,72.01 530.12,71.24 529.77,70.47 529.40,69.70 529.01,68.94 528.60,68.17 528.17,67.41 527.72,66.65 527.26,65.90 526.77,65.15 526.26,64.40 525.73,63.65 525.19,62.91 524.62,62.17 524.03,61.43 523.43,60.70 522.80,59.97 522.15,59.25 521.49,58.53 520.80,57.81 520.10,57.10 519.38,56.39 518.63,55.69 517.87,54.99 517.09,54.30 516.28,53.61 515.46,52.93 514.62,52.25 513.76,51.58 512.88,50.91 511.98,50.25 511.07,49.59 510.13,48.94 509.17,48.30 508.20,47.66 507.20,47.03 506.19,46.41 505.16,45.79 504.11,45.18 503.04,44.58 501.95,43.98 500.84,43.40 499.71,42.82 498.57,42.24 497.41,41.68 496.22,41.12 495.02,40.57 493.80,40.03 492.57,39.50 491.31,38.97 490.04,38.46 488.75,37.95 487.44,37.45 486.11,36.96 484.76,36.49 483.40,36.02 482.02,35.56 480.62,35.11 479.21,34.67 477.77,34.24" fill="none" stroke="#a0a0a0" stroke-width="1"/>
<polyline points="481.24,136.31 482.93,135.95 484.61,135.59 486.27,135.20 487.91,134.81 489.54,134.40 491.16,133.98 492.75,133.55 494.33,133.10 495.89,132.65 497.44,132.18 498.96,131.70 500.47,131.20 501.96,130.70 503.43,130.18 504.88,129.65 506.31,129.12 507.72,128.57 509.12,128.01 510.49,127.44 511.84,126.86 513.17,126.27 514.48,125.67 515.77,125.06 517.04,124.44 518.29,123.81 519.51,123.17 520.72,122.53 521.90,121.87 523.06,121.21 524.19,120.53 525.31,119.85 526.40,119.16 527.47,118.47 528.51,117.76 529.53,117.05 530.53,116.33 531.51,115.61 532.46,114.87 533.39,114.13 534.29,113.39 535.17,112.63 536.03,111.88 536.86,111.11 537.67,110.34 538.45,109.56 539.21,108.78 539.94,107.99 540.65,107.20 541.33,106.40 541.99,105.60 542.62,104.80 543.23,103.99 543.82,103.17 544.37,102.35 544.91,101.53 545.41,100.70 545.89,99.87 546.35,99.04 546.78,98.20 547.18,97.36 547.56,96.52 547.91,95.68 548.24,94.83 548.54,93.98 548.81,93.13 549.06,92.28 549.28,91.42 549.48,90.57 549.65,89.71 549.79,88.85 549.91,87.99 550.00,87.13 550.07,86.27 550.11,85.41 550.12,84.55 550.11,83.69 550.07,82.83 550.00,81.97 549.91,81.11 549.79,80.25 549.65,79.39 549.48,78.53 549.28,77.68 549.06,76.82 548.81,75.97 548.54,75.12 548.24,74.27 547.91,73.42 547.56,72.58 547.18,71.74 546.78,70.90 546.35,70.06 545.89,69.23 545.41,68.40 544.91,67.57 544.37,66.75 543.82,65.93 543.23,65.11 542.62,64.30 541.99,63.50 541.33,62.70 540.65,61.90 539.94,61.11 539.21,60.32 538.45,59.54 537.67,58.76 536.86,57.99 536.03,57.22 535.17,56.47 534.29,55.71 533.39,54.97 532.46,54.23 531.51,53.49 530.53,52.77 529.53,52.05 528.51,51.34 527.47,50.63 526.40,49.94 525.31,49.25 524.19,48.57 523.06,47.89 521.90,47.23 520.72,46.57 519.51,45.93 518.29,45.29 517.04,44.66 515.77,44.04 514.48,43.43 513.17,42.83 511.84,42.24 510.49,41.66 509.12,41.09 507.72,40.53 506.31,39.98 504.88,39.45 503.43,38.92 501.96,38.40 500.47,37.90 498.96,37.40 497.44,36.92 495.89,36.45 494.33,36.00 492.75,35.55 491.16,35.12 489.54,34.70 487.91,34.29 486.27,33.90 484.61,33.51 482.93,33.15 481.24,32.79" fill="none" stroke="#a0a0a0" stroke-width="1"/>
<text transform="translate(358.48,78.80) scale(1,1.04)" font-family="Liberation Serif, serif" stroke="#000" stroke-width="0.22" font-size="11" text-anchor="middle">10<tspan font-size="7.2" dy="-3.5">h</tspan></text>
<text transform="translate(375.60,78.80) scale(1,1.04)" font-family="Liberation Serif, serif" stroke="#000" stroke-width="0.22" font-size="11" text-anchor="middle">8<tspan font-size="7.2" dy="-3.5">h</tspan></text>
<text transform="translate(394.06,78.80) scale(1,1.04)" font-family="Liberation Serif, serif" stroke="#000" stroke-width="0.22" font-size="11" text-anchor="middle">6<tspan font-size="7.2" dy="-3.5">h</tspan></text>
<text transform="translate(413.56,78.80) scale(1,1.04)" font-family="Liberation Serif, serif" stroke="#000" stroke-width="0.22" font-size="11" text-anchor="middle">4<tspan font-size="7.2" dy="-3.5">h</tspan></text>
<text transform="translate(433.75,78.80) scale(1,1.04)" font-family="Liberation Serif, serif" stroke="#000" stroke-width="0.22" font-size="11" text-anchor="middle">2<tspan font-size="7.2" dy="-3.5">h</tspan></text>
<text transform="translate(454.30,78.80) scale(1,1.04)" font-family="Liberation Serif, serif" stroke="#000" stroke-width="0.22" font-size="11" text-anchor="middle">0<tspan font-size="7.2" dy="-3.5">h</tspan></text>
<text transform="translate(474.85,78.80) scale(1,1.04)" font-family="Liberation Serif, serif" stroke="#000" stroke-width="0.22" font-size="11" text-anchor="middle">22<tspan font-size="7.2" dy="-3.5">h</tspan></text>
<text transform="translate(495.04,78.80) scale(1,1.04)" font-family="Liberation Serif, serif" stroke="#000" stroke-width="0.22" font-size="11" text-anchor="middle">20<tspan font-size="7.2" dy="-3.5">h</tspan></text>
<text transform="translate(514.54,78.80) scale(1,1.04)" font-family="Liberation Serif, serif" stroke="#000" stroke-width="0.22" font-size="11" text-anchor="middle">18<tspan font-size="7.2" dy="-3.5">h</tspan></text>
<text transform="translate(533.00,78.80) scale(1,1.04)" font-family="Liberation Serif, serif" stroke="#000" stroke-width="0.22" font-size="11" text-anchor="middle">16<tspan font-size="7.2" dy="-3.5">h</tspan></text>
<text transform="translate(550.12,78.80) scale(1,1.04)" font-family="Liberation Serif, serif" stroke="#000" stroke-width="0.22" font-size="11" text-anchor="middle">14<tspan font-size="7.2" dy="-3.5">h</tspan></text>
<text transform="translate(417.79,146.12) scale(1,1.04)" font-family="Liberation Serif, serif" stroke="#000" stroke-width="0.22" font-size="11" text-anchor="end">75<tspan font-size="8.0" dy="-2.0" stroke-width="0.1">°</tspan></text><line x1="395.99" y1="142.92" x2="402.39" y2="142.92" stroke="#111" stroke-width="0.9"/>
<text transform="translate(390.95,140.03) scale(1,1.04)" font-family="Liberation Serif, serif" stroke="#000" stroke-width="0.22" font-size="11" text-anchor="end">60<tspan font-size="8.0" dy="-2.0" stroke-width="0.1">°</tspan></text><line x1="369.15" y1="136.83" x2="375.55" y2="136.83" stroke="#111" stroke-width="0.9"/>
<text transform="translate(367.90,130.33) scale(1,1.04)" font-family="Liberation Serif, serif" stroke="#000" stroke-width="0.22" font-size="11" text-anchor="end">45<tspan font-size="8.0" dy="-2.0" stroke-width="0.1">°</tspan></text><line x1="346.10" y1="127.13" x2="352.50" y2="127.13" stroke="#111" stroke-width="0.9"/>
<text transform="translate(350.21,117.70) scale(1,1.04)" font-family="Liberation Serif, serif" stroke="#000" stroke-width="0.22" font-size="11" text-anchor="end">30<tspan font-size="8.0" dy="-2.0" stroke-width="0.1">°</tspan></text><line x1="328.41" y1="114.50" x2="334.81" y2="114.50" stroke="#111" stroke-width="0.9"/>
<text transform="translate(339.09,102.99) scale(1,1.04)" font-family="Liberation Serif, serif" stroke="#000" stroke-width="0.22" font-size="11" text-anchor="end">15<tspan font-size="8.0" dy="-2.0" stroke-width="0.1">°</tspan></text><line x1="317.29" y1="99.79" x2="323.69" y2="99.79" stroke="#111" stroke-width="0.9"/>
<text transform="translate(335.30,87.20) scale(1,1.04)" font-family="Liberation Serif, serif" stroke="#000" stroke-width="0.22" font-size="11" text-anchor="end">0<tspan font-size="8.0" dy="-2.0" stroke-width="0.1">°</tspan></text>
<text transform="translate(339.09,71.41) scale(1,1.04)" font-family="Liberation Serif, serif" stroke="#000" stroke-width="0.22" font-size="11" text-anchor="end">15<tspan font-size="8.0" dy="-2.0" stroke-width="0.1">°</tspan></text>
<text transform="translate(350.21,56.70) scale(1,1.04)" font-family="Liberation Serif, serif" stroke="#000" stroke-width="0.22" font-size="11" text-anchor="end">30<tspan font-size="8.0" dy="-2.0" stroke-width="0.1">°</tspan></text>
<text transform="translate(367.90,44.07) scale(1,1.04)" font-family="Liberation Serif, serif" stroke="#000" stroke-width="0.22" font-size="11" text-anchor="end">45<tspan font-size="8.0" dy="-2.0" stroke-width="0.1">°</tspan></text>
<text transform="translate(390.95,34.37) scale(1,1.04)" font-family="Liberation Serif, serif" stroke="#000" stroke-width="0.22" font-size="11" text-anchor="end">60<tspan font-size="8.0" dy="-2.0" stroke-width="0.1">°</tspan></text>
<text transform="translate(417.79,28.28) scale(1,1.04)" font-family="Liberation Serif, serif" stroke="#000" stroke-width="0.22" font-size="11" text-anchor="end">75<tspan font-size="8.0" dy="-2.0" stroke-width="0.1">°</tspan></text>
<circle cx="450.39" cy="78.15" r="3.5" fill="none" stroke="#1a62a0" stroke-width="1.8"/>
<circle cx="449.16" cy="81.24" r="3.5" fill="none" stroke="#1a62a0" stroke-width="1.8"/>
<circle cx="417.18" cy="63.15" r="3.5" fill="none" stroke="#1a62a0" stroke-width="1.8"/>
<circle cx="402.74" cy="78.09" r="3.5" fill="none" stroke="#1a62a0" stroke-width="1.8"/>
<circle cx="396.35" cy="72.90" r="3.5" fill="none" stroke="#1a62a0" stroke-width="1.8"/>
<circle cx="383.52" cy="80.75" r="3.5" fill="none" stroke="#1a62a0" stroke-width="1.8"/>
<circle cx="356.89" cy="75.79" r="3.5" fill="none" stroke="#1a62a0" stroke-width="1.8"/>
<circle cx="556.51" cy="83.79" r="3.5" fill="none" stroke="#1a62a0" stroke-width="1.8"/>
<circle cx="538.53" cy="69.01" r="3.5" fill="none" stroke="#1a62a0" stroke-width="1.8"/>
<circle cx="522.44" cy="67.50" r="3.5" fill="none" stroke="#1a62a0" stroke-width="1.8"/>
<circle cx="521.41" cy="78.67" r="3.5" fill="none" stroke="#1a62a0" stroke-width="1.8"/>
<circle cx="517.91" cy="81.90" r="3.5" fill="none" stroke="#1a62a0" stroke-width="1.8"/>
<circle cx="516.06" cy="74.26" r="3.5" fill="none" stroke="#1a62a0" stroke-width="1.8"/>
<circle cx="516.10" cy="76.91" r="3.5" fill="none" stroke="#1a62a0" stroke-width="1.8"/>
<circle cx="504.98" cy="75.14" r="3.5" fill="none" stroke="#1a62a0" stroke-width="1.8"/>
<circle cx="504.81" cy="77.54" r="3.5" fill="none" stroke="#1a62a0" stroke-width="1.8"/>
<circle cx="504.34" cy="82.06" r="3.5" fill="none" stroke="#1a62a0" stroke-width="1.8"/>
<circle cx="502.30" cy="75.28" r="3.5" fill="none" stroke="#1a62a0" stroke-width="1.8"/>
<circle cx="502.01" cy="74.68" r="3.5" fill="none" stroke="#1a62a0" stroke-width="1.8"/>
<circle cx="497.61" cy="66.67" r="3.5" fill="none" stroke="#1a62a0" stroke-width="1.8"/>
<circle cx="496.09" cy="69.31" r="3.5" fill="none" stroke="#1a62a0" stroke-width="1.8"/>
<circle cx="497.26" cy="78.08" r="3.5" fill="none" stroke="#1a62a0" stroke-width="1.8"/>
<circle cx="491.39" cy="60.66" r="3.5" fill="none" stroke="#1a62a0" stroke-width="1.8"/>
<circle cx="491.72" cy="64.19" r="3.5" fill="none" stroke="#1a62a0" stroke-width="1.8"/>
<circle cx="492.05" cy="80.29" r="3.5" fill="none" stroke="#1a62a0" stroke-width="1.8"/>
<circle cx="488.27" cy="72.29" r="3.5" fill="none" stroke="#1a62a0" stroke-width="1.8"/>
<circle cx="486.71" cy="72.59" r="3.5" fill="none" stroke="#1a62a0" stroke-width="1.8"/>
<circle cx="470.57" cy="64.16" r="3.5" fill="none" stroke="#1a62a0" stroke-width="1.8"/>
<circle cx="468.62" cy="66.38" r="3.5" fill="none" stroke="#1a62a0" stroke-width="1.8"/>
<circle cx="468.98" cy="80.31" r="3.5" fill="none" stroke="#1a62a0" stroke-width="1.8"/>
<circle cx="468.88" cy="77.88" r="3.5" fill="none" stroke="#1a62a0" stroke-width="1.8"/>
<circle cx="461.50" cy="74.56" r="3.5" fill="none" stroke="#1a62a0" stroke-width="1.8"/>
<circle cx="460.49" cy="70.31" r="3.5" fill="none" stroke="#1a62a0" stroke-width="1.8"/>
<circle cx="424.46" cy="56.12" r="2.8" fill="#249628"/>
<circle cx="403.94" cy="57.22" r="2.8" fill="#249628"/>
<circle cx="395.79" cy="100.01" r="2.8" fill="#249628"/>
<circle cx="392.04" cy="86.04" r="2.8" fill="#249628"/>
<circle cx="400.36" cy="108.91" r="2.8" fill="#249628"/>
<circle cx="409.81" cy="48.02" r="2.8" fill="#249628"/>
<circle cx="409.35" cy="47.58" r="2.8" fill="#249628"/>
<circle cx="420.13" cy="38.57" r="2.8" fill="#249628"/>
<circle cx="366.92" cy="100.37" r="2.8" fill="#249628"/>
<circle cx="393.47" cy="43.09" r="2.8" fill="#249628"/>
<circle cx="380.69" cy="119.15" r="2.8" fill="#249628"/>
<circle cx="355.98" cy="90.97" r="2.8" fill="#249628"/>
<circle cx="432.00" cy="30.76" r="2.8" fill="#249628"/>
<circle cx="529.53" cy="111.23" r="2.8" fill="#249628"/>
<circle cx="523.50" cy="108.32" r="2.8" fill="#249628"/>
<circle cx="526.03" cy="101.92" r="2.8" fill="#249628"/>
<circle cx="515.42" cy="56.43" r="2.8" fill="#249628"/>
<circle cx="525.14" cy="94.05" r="2.8" fill="#249628"/>
<circle cx="520.07" cy="98.91" r="2.8" fill="#249628"/>
<circle cx="521.41" cy="78.67" r="2.8" fill="#249628"/>
<circle cx="519.23" cy="95.54" r="2.8" fill="#249628"/>
<circle cx="515.04" cy="101.66" r="2.8" fill="#249628"/>
<circle cx="516.04" cy="93.14" r="2.8" fill="#249628"/>
<circle cx="504.10" cy="113.75" r="2.8" fill="#249628"/>
<circle cx="509.69" cy="105.69" r="2.8" fill="#249628"/>
<circle cx="510.90" cy="100.22" r="2.8" fill="#249628"/>
<circle cx="508.70" cy="102.08" r="2.8" fill="#249628"/>
<circle cx="508.94" cy="90.81" r="2.8" fill="#249628"/>
<circle cx="506.85" cy="92.68" r="2.8" fill="#249628"/>
<circle cx="495.10" cy="111.03" r="2.8" fill="#249628"/>
<circle cx="501.71" cy="89.35" r="2.8" fill="#249628"/>
<circle cx="496.09" cy="69.31" r="2.8" fill="#249628"/>
<circle cx="492.56" cy="93.96" r="2.8" fill="#249628"/>
<circle cx="477.38" cy="107.72" r="2.8" fill="#249628"/>
<circle cx="477.23" cy="89.95" r="2.8" fill="#249628"/>
<circle cx="461.95" cy="54.73" r="2.8" fill="#249628"/>
<line x1="419.91" y1="117.11" x2="419.91" y2="122.11" stroke="#f0841c" stroke-width="2.1"/><line x1="419.91" y1="117.11" x2="415.58" y2="114.61" stroke="#f0841c" stroke-width="2.1"/><line x1="419.91" y1="117.11" x2="424.24" y2="114.61" stroke="#f0841c" stroke-width="2.1"/>
<line x1="523.50" y1="108.32" x2="523.50" y2="113.32" stroke="#f0841c" stroke-width="2.1"/><line x1="523.50" y1="108.32" x2="519.17" y2="105.82" stroke="#f0841c" stroke-width="2.1"/><line x1="523.50" y1="108.32" x2="527.83" y2="105.82" stroke="#f0841c" stroke-width="2.1"/>
<line x1="525.14" y1="94.05" x2="525.14" y2="99.05" stroke="#f0841c" stroke-width="2.1"/><line x1="525.14" y1="94.05" x2="520.81" y2="91.55" stroke="#f0841c" stroke-width="2.1"/><line x1="525.14" y1="94.05" x2="529.47" y2="91.55" stroke="#f0841c" stroke-width="2.1"/>
<line x1="521.41" y1="78.67" x2="521.41" y2="83.67" stroke="#f0841c" stroke-width="2.1"/><line x1="521.41" y1="78.67" x2="517.07" y2="76.17" stroke="#f0841c" stroke-width="2.1"/><line x1="521.41" y1="78.67" x2="525.74" y2="76.17" stroke="#f0841c" stroke-width="2.1"/>
<line x1="504.34" y1="82.06" x2="504.34" y2="87.06" stroke="#f0841c" stroke-width="2.1"/><line x1="504.34" y1="82.06" x2="500.01" y2="79.56" stroke="#f0841c" stroke-width="2.1"/><line x1="504.34" y1="82.06" x2="508.67" y2="79.56" stroke="#f0841c" stroke-width="2.1"/>
<line x1="495.10" y1="111.03" x2="495.10" y2="116.03" stroke="#f0841c" stroke-width="2.1"/><line x1="495.10" y1="111.03" x2="490.77" y2="108.53" stroke="#f0841c" stroke-width="2.1"/><line x1="495.10" y1="111.03" x2="499.43" y2="108.53" stroke="#f0841c" stroke-width="2.1"/>
<ellipse cx="454.3" cy="84.55" rx="111.3" ry="55.35" fill="none" stroke="#000" stroke-width="1.3"/>
<rect x="351.3" y="153.8" width="205.3" height="23" fill="#fff" stroke="#000" stroke-width="1.1"/>
<circle cx="369" cy="164.3" r="3.6" fill="none" stroke="#1a62a0" stroke-width="1.9"/>
<text transform="translate(382.40,168.40) scale(1,1.04)" font-family="Liberation Serif, serif" stroke="#000" stroke-width="0.22" font-size="11" text-anchor="start">Arecibo</text>
<circle cx="433" cy="164.5" r="2.8" fill="#249628"/>
<text transform="translate(445.80,168.40) scale(1,1.04)" font-family="Liberation Serif, serif" stroke="#000" stroke-width="0.22" font-size="11" text-anchor="start">Green Bank</text>
<line x1="514.50" y1="164.30" x2="514.50" y2="169.30" stroke="#f0841c" stroke-width="1.8"/><line x1="514.50" y1="164.30" x2="510.17" y2="161.80" stroke="#f0841c" stroke-width="1.8"/><line x1="514.50" y1="164.30" x2="518.83" y2="161.80" stroke="#f0841c" stroke-width="1.8"/>
<text transform="translate(528.20,168.40) scale(1,1.04)" font-family="Liberation Serif, serif" stroke="#000" stroke-width="0.22" font-size="11" text-anchor="start">VLA</text>
<rect x="302.6" y="195.8" width="200" height="43" fill="#fff" stroke="#000" stroke-width="1.1"/>
<line x1="322.1" y1="203" x2="322.1" y2="214" stroke="#b52a2d" stroke-width="1.5"/>
<line x1="318.3" y1="203" x2="325.9" y2="203" stroke="#b52a2d" stroke-width="1.5"/>
<line x1="318.3" y1="214" x2="325.9" y2="214" stroke="#b52a2d" stroke-width="1.5"/>
<circle cx="322.1" cy="208.5" r="3.3" fill="#d62728"/>
<text transform="translate(342.70,212.60) scale(1,1.04)" font-family="Liberation Serif, serif" stroke="#000" stroke-width="0.22" font-size="11" text-anchor="start">NANOGrav 15 year measurement</text>
<line x1="310.9" y1="224.2" x2="334.2" y2="224.2" stroke="#000" stroke-width="2"/>
<text transform="translate(342.70,228.50) scale(1,1.04)" font-family="Liberation Serif, serif" stroke="#000" stroke-width="0.22" font-size="11" text-anchor="start">Hellings-Downs prediction</text>
</svg>
</body></html>
